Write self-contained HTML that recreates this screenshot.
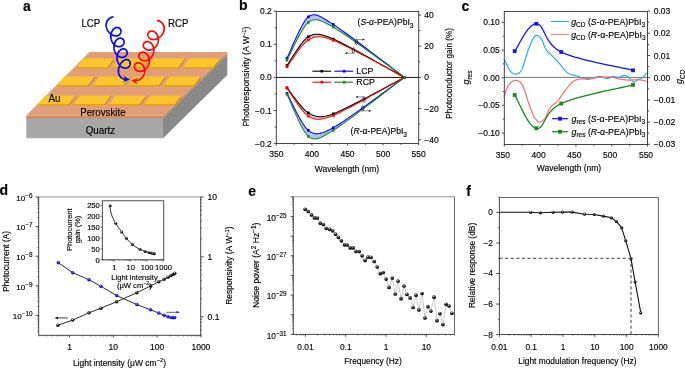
<!DOCTYPE html>
<html><head><meta charset="utf-8"><style>
html,body{margin:0;padding:0;background:#fff;}
body{width:685px;height:368px;overflow:hidden;}
svg{display:block;will-change:transform;font-family:"Liberation Sans",sans-serif;}
text{stroke:#000;stroke-width:0.15px;}
</style></head><body>
<svg width="685" height="368" viewBox="0 0 685 368" fill="#000">
<defs>
<radialGradient id="sg" cx="0.45" cy="0.35" r="0.6" fx="0.42" fy="0.28">
<stop offset="0" stop-color="#f0f0f0"/><stop offset="0.3" stop-color="#505050"/><stop offset="0.7" stop-color="#181818"/><stop offset="1" stop-color="#000"/></radialGradient>
<radialGradient id="bg" cx="0.45" cy="0.35" r="0.6" fx="0.42" fy="0.28">
<stop offset="0" stop-color="#b0b0ff"/><stop offset="0.35" stop-color="#2a2aff"/><stop offset="1" stop-color="#0000b0"/></radialGradient>
</defs>
<text x="23" y="10.6" font-size="14" text-anchor="start" font-weight="bold">a</text>
<polygon points="26.3,118.1 163,118.1 163,138.3 26.3,138.3" fill="#a7a7a7" />
<polygon points="163,118.1 227.3,54.6 227.3,75 163,138.3" fill="#898989" />
<polygon points="26.2,115.5 163,115.5 163,118.2 26.3,118.2" fill="#d88a5c" />
<polygon points="163,115.5 227.3,52 227.3,54.8 163,118.2" fill="#cf8c62" />
<polygon points="89.5,52 227.3,52 163,115.5 26.2,115.5" fill="#e09f78" />
<polygon points="77.2,67 107.7,67 108.1,68.5 77.4,68.5" fill="#e6a40c" />
<polygon points="114,58.6 114.5,59.6 108.2,68.5 107.7,67" fill="#c58d12" />
<polygon points="83.5,58.6 114,58.6 107.7,67 77.2,67" fill="#fdc52c" />
<polygon points="112.5,67 143,67 143.4,68.5 112.7,68.5" fill="#e6a40c" />
<polygon points="149.3,58.6 149.8,59.6 143.5,68.5 143,67" fill="#c58d12" />
<polygon points="118.8,58.6 149.3,58.6 143,67 112.5,67" fill="#fdc52c" />
<polygon points="147.8,67 178.3,67 178.7,68.5 148,68.5" fill="#e6a40c" />
<polygon points="184.6,58.6 185.1,59.6 178.8,68.5 178.3,67" fill="#c58d12" />
<polygon points="154.1,58.6 184.6,58.6 178.3,67 147.8,67" fill="#fdc52c" />
<polygon points="183.1,67 213.6,67 214,68.5 183.3,68.5" fill="#e6a40c" />
<polygon points="219.9,58.6 220.4,59.6 214.1,68.5 213.6,67" fill="#c58d12" />
<polygon points="189.4,58.6 219.9,58.6 213.6,67 183.1,67" fill="#fdc52c" />
<polygon points="57.8,85 88.3,85 88.7,86.5 58,86.5" fill="#e6a40c" />
<polygon points="94.6,76.6 95.1,77.6 88.8,86.5 88.3,85" fill="#c58d12" />
<polygon points="64.1,76.6 94.6,76.6 88.3,85 57.8,85" fill="#fdc52c" />
<polygon points="93.1,85 123.6,85 124,86.5 93.3,86.5" fill="#e6a40c" />
<polygon points="129.9,76.6 130.4,77.6 124.1,86.5 123.6,85" fill="#c58d12" />
<polygon points="99.4,76.6 129.9,76.6 123.6,85 93.1,85" fill="#fdc52c" />
<polygon points="128.4,85 158.9,85 159.3,86.5 128.6,86.5" fill="#e6a40c" />
<polygon points="165.2,76.6 165.7,77.6 159.4,86.5 158.9,85" fill="#c58d12" />
<polygon points="134.7,76.6 165.2,76.6 158.9,85 128.4,85" fill="#fdc52c" />
<polygon points="163.7,85 194.2,85 194.6,86.5 163.9,86.5" fill="#e6a40c" />
<polygon points="200.5,76.6 201,77.6 194.7,86.5 194.2,85" fill="#c58d12" />
<polygon points="170,76.6 200.5,76.6 194.2,85 163.7,85" fill="#fdc52c" />
<polygon points="38.6,104 69.1,104 69.5,105.5 38.8,105.5" fill="#e6a40c" />
<polygon points="75.4,95.6 75.9,96.6 69.6,105.5 69.1,104" fill="#c58d12" />
<polygon points="44.9,95.6 75.4,95.6 69.1,104 38.6,104" fill="#fdc52c" />
<polygon points="73.9,104 104.4,104 104.8,105.5 74.1,105.5" fill="#e6a40c" />
<polygon points="110.7,95.6 111.2,96.6 104.9,105.5 104.4,104" fill="#c58d12" />
<polygon points="80.2,95.6 110.7,95.6 104.4,104 73.9,104" fill="#fdc52c" />
<polygon points="109.2,104 139.7,104 140.1,105.5 109.4,105.5" fill="#e6a40c" />
<polygon points="146,95.6 146.5,96.6 140.2,105.5 139.7,104" fill="#c58d12" />
<polygon points="115.5,95.6 146,95.6 139.7,104 109.2,104" fill="#fdc52c" />
<polygon points="144.5,104 175,104 175.4,105.5 144.7,105.5" fill="#e6a40c" />
<polygon points="181.3,95.6 181.8,96.6 175.5,105.5 175,104" fill="#c58d12" />
<polygon points="150.8,95.6 181.3,95.6 175,104 144.5,104" fill="#fdc52c" />
<text transform="translate(48.4,101.5) scale(1,1.08)" font-size="9.8" text-anchor="start">Au</text>
<text transform="translate(102.9,116) scale(1,1.08)" font-size="9.75" text-anchor="middle">Perovskite</text>
<text transform="translate(100.4,133.7) scale(1,1.08)" font-size="9.75" text-anchor="middle">Quartz</text>
<text transform="translate(90.9,26.8) scale(1,1.08)" font-size="9.7" text-anchor="middle">LCP</text>
<text transform="translate(178.2,26.8) scale(1,1.08)" font-size="9.7" text-anchor="middle">RCP</text>
<polyline points="112.8,17 112.4,17.1 112,17.21 111.6,17.34 111.22,17.49 110.84,17.66 110.47,17.84 110.11,18.04 109.76,18.26 109.42,18.49 109.1,18.74 108.79,19 108.49,19.28 108.21,19.58 107.95,19.88 107.7,20.21 107.47,20.54 107.25,20.88 107.06,21.24 106.88,21.61 106.72,21.99 106.58,22.37 106.46,22.77 106.37,23.17 106.29,23.58 106.23,23.99 106.19,24.41 106.17,24.84 106.17,25.27 106.19,25.7 106.23,26.13 106.29,26.56 106.36,26.99 106.46,27.42 106.58,27.85 106.71,28.27 106.86,28.69 107.03,29.11 107.22,29.52 107.42,29.92 107.63,30.32 107.86,30.71 108.11,31.08 108.37,31.45 108.64,31.81 108.92,32.16 109.21,32.5 109.51,32.82 109.83,33.13 110.15,33.42 110.47,33.7 110.81,33.97 111.15,34.22 111.49,34.46 111.84,34.68 112.19,34.88 112.54,35.07 112.89,35.23 113.25,35.39 113.6,35.52 113.95,35.64 114.3,35.74 114.64,35.82 114.98,35.88 115.32,35.93 115.64,35.96 115.97,35.97 116.28,35.96 116.59,35.94 116.89,35.9 117.17,35.84 117.45,35.77 117.72,35.69 117.97,35.58 118.23,35.47 118.49,35.34 118.73,35.19 118.97,35.04 119.19,34.87 119.41,34.69 119.61,34.5 119.79,34.29 119.97,34.08 120.13,33.87 120.28,33.64 120.41,33.41 120.53,33.17 120.63,32.92 120.72,32.67 120.8,32.42 120.86,32.17 120.9,31.91 120.93,31.66 120.94,31.4 120.94,31.14 120.93,30.89 120.89,30.64 120.85,30.39 120.79,30.15 120.71,29.92 120.62,29.69 120.51,29.46 120.4,29.25 120.27,29.04 120.12,28.85 119.96,28.66 119.8,28.49 119.62,28.33 119.43,28.18 119.23,28.04 119.01,27.92 118.8,27.81 118.57,27.72 118.33,27.64 118.09,27.57 117.84,27.53 117.59,27.5 117.33,27.48 117.06,27.49 116.8,27.51 116.53,27.55 116.26,27.6 115.98,27.67 115.71,27.77 115.44,27.87 115.17,28 114.9,28.14 114.63,28.3 114.37,28.48 114.11,28.68 113.86,28.89 113.61,29.12 113.37,29.36 113.14,29.62 112.92,29.9 112.7,30.19 112.49,30.49 112.3,30.81 112.11,31.14 111.94,31.48 111.77,31.83 111.62,32.2 111.48,32.57 111.36,32.95 111.24,33.35 111.14,33.75 111.06,34.15 110.99,34.57 110.93,34.99 110.89,35.41 110.87,35.84 110.85,36.26 110.86,36.7 110.88,37.13 110.91,37.56 110.96,37.99 111.03,38.42 111.11,38.84 111.2,39.27 111.31,39.68 111.44,40.09 111.58,40.5 111.73,40.9 111.9,41.29 112.08,41.67 112.27,42.04 112.48,42.4 112.69,42.76 112.92,43.09 113.16,43.42 113.41,43.73 113.67,44.03 113.94,44.32 114.22,44.59 114.5,44.85 114.79,45.09 115.09,45.31 115.4,45.52 115.71,45.71 116.02,45.89 116.34,46.04 116.66,46.18 116.98,46.3 117.3,46.41 117.63,46.49 117.95,46.56 118.27,46.62 118.59,46.65 118.91,46.67 119.22,46.67 119.53,46.65 119.83,46.61 120.13,46.56 120.42,46.5 120.71,46.41 120.98,46.32 121.25,46.2 121.51,46.08 121.76,45.94 122,45.78 122.23,45.62 122.44,45.44 122.65,45.26 122.84,45.06 123.02,44.85 123.18,44.63 123.33,44.41 123.47,44.18 123.6,43.94 123.7,43.7 123.8,43.45 123.88,43.2 123.94,42.95 123.99,42.69 124.02,42.43 124.04,42.18 124.05,41.92 124.03,41.67 124.01,41.42 123.96,41.17 123.91,40.92 123.83,40.69 123.75,40.46 123.65,40.23 123.53,40.01 123.41,39.81 123.27,39.61 123.11,39.42 122.95,39.24 122.77,39.08 122.59,38.92 122.39,38.78 122.18,38.65 121.96,38.54 121.74,38.44 121.5,38.36 121.26,38.29 121.02,38.24 120.76,38.2 120.51,38.19 120.24,38.18 119.98,38.2 119.71,38.23 119.44,38.28 119.17,38.35 118.89,38.44 118.62,38.54 118.35,38.66 118.08,38.8 117.81,38.95 117.55,39.13 117.29,39.32 117.04,39.52 116.79,39.75 116.55,39.99 116.31,40.24 116.08,40.51 115.87,40.8 115.66,41.1 115.46,41.41 115.27,41.73 115.09,42.07 114.92,42.42 114.77,42.78 114.62,43.16 114.49,43.54 114.38,43.93 114.27,44.32 114.18,44.73 114.11,45.14 114.05,45.56 114,45.98 113.97,46.41 113.96,46.83 113.96,47.26 113.97,47.7 114,48.13 114.05,48.56 114.11,48.99 114.18,49.41 114.27,49.84 114.38,50.26 114.5,50.67 114.63,51.08 114.78,51.48 114.95,51.87 115.12,52.26 115.31,52.63 115.51,53 115.73,53.35 115.95,53.69 116.19,54.02 116.43,54.34 116.69,54.64 116.96,54.94 117.23,55.21 117.51,55.47 117.81,55.72 118.1,55.95 118.4,56.16 118.71,56.35 119.03,56.53 119.34,56.7 119.66,56.84 119.98,56.97 120.3,57.08 120.63,57.17 120.95,57.24 121.27,57.3 121.59,57.34 121.91,57.36 122.23,57.37 122.54,57.35 122.84,57.33 123.14,57.28 123.44,57.22 123.72,57.14 124,57.05 124.27,56.94 124.53,56.82 124.79,56.68 125.03,56.53 125.26,56.37 125.48,56.2 125.69,56.01 125.88,55.82 126.06,55.61 126.23,55.4 126.39,55.18 126.53,54.95 126.66,54.71 126.77,54.47 126.87,54.23 126.96,53.98 127.02,53.72 127.08,53.47 127.12,53.21 127.14,52.95 127.15,52.7 127.14,52.44 127.12,52.19 127.08,51.94 127.02,51.7 126.96,51.46 126.88,51.23 126.78,51 126.67,50.78 126.55,50.57 126.41,50.37 126.26,50.17 126.1,49.99 125.93,49.82 125.74,49.67 125.55,49.52 125.34,49.39 125.13,49.27 124.91,49.17 124.68,49.08 124.44,49.01 124.19,48.95 123.94,48.91 123.68,48.89 123.42,48.88 123.16,48.89 122.89,48.92 122.62,48.97 122.35,49.03 122.08,49.11 121.8,49.21 121.53,49.32 121.26,49.45 120.99,49.6 120.73,49.77 120.47,49.96 120.21,50.16 119.96,50.38 119.72,50.61 119.48,50.86 119.25,51.13 119.03,51.41 118.82,51.7 118.62,52.01 118.42,52.33 118.24,52.67 118.07,53.02 117.91,53.37 117.76,53.74 117.63,54.12 117.51,54.51 117.4,54.9 117.31,55.31 117.23,55.72 117.16,56.13 117.11,56.55 117.08,56.98 117.06,57.4 117.05,57.83 117.06,58.26 117.09,58.7 117.13,59.13 117.19,59.56 117.26,59.98 117.34,60.41 117.45,60.83 117.56,61.24 117.69,61.65 117.84,62.06 117.99,62.45 118.17,62.84 118.35,63.22 118.55,63.59 118.76,63.94 118.98,64.29 119.21,64.62 119.46,64.95 119.71,65.25 119.98,65.55 120.25,65.83 120.53,66.09 120.82,66.34 121.11,66.58 121.41,66.8 121.72,67 122.03,67.18 122.34,67.35 122.66,67.5 122.98,67.63 123.31,67.75 123.63,67.84 123.95,67.92 124.28,67.99 124.6,68.03 124.91,68.06 125.23,68.07 125.54,68.06 125.85,68.04 126.15,68 126.45,67.94 126.74,67.87 127.02,67.78 127.29,67.67 127.55,67.56 127.81,67.42 128.06,67.28 128.29,67.12 128.51,66.95 128.72,66.77 128.92,66.58 129.11,66.38 129.28,66.17 129.44,65.95 129.59,65.72 129.72,65.49 129.84,65.25 129.94,65 130.03,64.75 130.1,64.5 130.16,64.25 130.21,63.99 130.23,63.73 130.25,63.48 130.24,63.22 130.22,62.97 130.19,62.72 130.14,62.47 130.08,62.23 130,62 129.91,61.77 129.8,61.54 129.69,61.33 129.55,61.13 129.41,60.93 129.25,60.75 129.08,60.57 128.9,60.41 128.71,60.27 128.51,60.13 128.3,60.01 128.08,59.9 127.85,59.81 127.61,59.73 127.37,59.67 127.12,59.62 126.86,59.59 126.6,59.58 126.34,59.59 126.07,59.61 125.8,59.65 125.53,59.71 125.26,59.78 124.99,59.87 124.71,59.98 124.44,60.11 124.18,60.26 123.91,60.42 123.65,60.6 123.39,60.8 123.14,61.01 122.89,61.24 122.65,61.48 122.65,61.48 122.18,61.87 121.73,62.31 121.29,62.82 120.87,63.37 120.47,63.97 120.1,64.61 119.76,65.29 119.45,66 119.18,66.73 118.94,67.49 118.74,68.26 118.59,69.05 118.48,69.84 118.42,70.63 118.42,71.42 118.47,72.2 118.58,72.97 118.75,73.72 118.98,74.45 119.28,75.14 119.65,75.81 120.1,76.43 120.62,77.01 121.22,77.54 121.9,78.02 122.66,78.44 123.52,78.8 124.46,79.09 125.5,79.3" fill="none" stroke="#0a0af8" stroke-width="1.75" stroke-linejoin="round" stroke-linecap="round" />
<polygon points="129.8,79.4 122.96,82.16 125.21,79.03 123.48,75.58" fill="#0a0af8" />
<polyline points="157.6,20.6 158.02,20.7 158.43,20.82 158.83,20.95 159.23,21.11 159.62,21.28 160,21.47 160.36,21.68 160.72,21.9 161.07,22.15 161.4,22.41 161.71,22.68 162.01,22.98 162.3,23.28 162.57,23.6 162.82,23.94 163.05,24.29 163.26,24.65 163.45,25.02 163.62,25.4 163.77,25.8 163.9,26.2 164.01,26.61 164.1,27.03 164.16,27.45 164.21,27.88 164.23,28.32 164.23,28.75 164.2,29.2 164.16,29.64 164.09,30.08 164.01,30.53 163.9,30.97 163.77,31.41 163.62,31.84 163.45,32.28 163.27,32.7 163.06,33.12 162.84,33.54 162.59,33.94 162.34,34.34 162.06,34.73 161.78,35.1 161.47,35.47 161.16,35.82 160.83,36.16 160.49,36.49 160.14,36.8 159.78,37.1 159.41,37.38 159.04,37.65 158.66,37.9 158.27,38.13 157.88,38.35 157.49,38.55 157.09,38.73 156.7,38.89 156.3,39.03 155.9,39.16 155.51,39.26 155.12,39.35 154.73,39.42 154.35,39.47 153.97,39.5 153.6,39.51 153.24,39.51 152.89,39.48 152.55,39.44 152.21,39.39 151.89,39.31 151.58,39.22 151.28,39.11 150.98,38.99 150.69,38.85 150.4,38.7 150.13,38.54 149.88,38.36 149.63,38.17 149.4,37.97 149.19,37.76 148.99,37.54 148.8,37.31 148.63,37.08 148.48,36.83 148.35,36.58 148.23,36.33 148.13,36.07 148.04,35.81 147.98,35.54 147.93,35.28 147.9,35.01 147.88,34.75 147.89,34.49 147.91,34.23 147.95,33.97 148.01,33.72 148.08,33.48 148.17,33.24 148.27,33.01 148.39,32.79 148.53,32.57 148.68,32.37 148.85,32.18 149.02,32 149.22,31.83 149.42,31.68 149.64,31.54 149.86,31.41 150.1,31.3 150.35,31.21 150.6,31.13 150.87,31.07 151.14,31.02 151.41,31 151.7,30.99 151.98,31 152.27,31.02 152.57,31.07 152.86,31.13 153.16,31.22 153.45,31.32 153.75,31.44 154.04,31.58 154.33,31.74 154.61,31.91 154.89,32.11 155.17,32.32 155.43,32.55 155.69,32.8 155.95,33.06 156.19,33.34 156.42,33.63 156.65,33.94 156.86,34.27 157.06,34.6 157.25,34.95 157.42,35.32 157.58,35.69 157.72,36.08 157.85,36.47 157.97,36.88 158.07,37.29 158.15,37.71 158.22,38.13 158.27,38.56 158.3,39 158.31,39.44 158.31,39.88 158.29,40.32 158.25,40.77 158.2,41.21 158.13,41.65 158.04,42.09 157.93,42.53 157.8,42.96 157.66,43.38 157.5,43.8 157.33,44.21 157.14,44.62 156.93,45.01 156.71,45.4 156.48,45.77 156.23,46.14 155.97,46.49 155.69,46.83 155.4,47.15 155.1,47.46 154.8,47.76 154.48,48.03 154.15,48.3 153.81,48.54 153.47,48.77 153.12,48.99 152.76,49.18 152.4,49.36 152.04,49.52 151.67,49.66 151.3,49.78 150.93,49.88 150.56,49.96 150.19,50.03 149.82,50.08 149.45,50.1 149.09,50.11 148.73,50.11 148.38,50.08 148.03,50.03 147.69,49.97 147.36,49.9 147.04,49.8 146.73,49.69 146.42,49.57 146.13,49.43 145.85,49.27 145.58,49.11 145.33,48.93 145.09,48.74 144.86,48.53 144.65,48.32 144.45,48.1 144.27,47.87 144.1,47.63 143.95,47.38 143.82,47.13 143.71,46.88 143.61,46.62 143.53,46.36 143.47,46.09 143.42,45.83 143.39,45.56 143.38,45.3 143.39,45.04 143.42,44.78 143.46,44.52 143.52,44.27 143.59,44.03 143.69,43.79 143.79,43.56 143.92,43.34 144.06,43.13 144.21,42.93 144.38,42.74 144.56,42.57 144.75,42.4 144.96,42.25 145.18,42.11 145.41,41.99 145.65,41.88 145.9,41.79 146.15,41.72 146.42,41.66 146.69,41.62 146.97,41.59 147.25,41.59 147.54,41.6 147.83,41.63 148.12,41.68 148.42,41.75 148.71,41.84 149.01,41.94 149.3,42.07 149.59,42.21 149.88,42.37 150.16,42.55 150.44,42.75 150.72,42.96 150.98,43.2 151.24,43.44 151.49,43.71 151.74,43.99 151.97,44.29 152.19,44.6 152.4,44.93 152.6,45.27 152.78,45.62 152.95,45.99 153.11,46.36 153.25,46.75 153.38,47.15 153.49,47.55 153.59,47.97 153.67,48.39 153.73,48.81 153.77,49.25 153.8,49.68 153.82,50.12 153.81,50.56 153.79,51.01 153.75,51.45 153.69,51.89 153.61,52.33 153.52,52.77 153.41,53.21 153.28,53.64 153.13,54.06 152.97,54.48 152.79,54.89 152.6,55.3 152.39,55.69 152.17,56.07 151.93,56.44 151.68,56.81 151.41,57.15 151.14,57.49 150.85,57.81 150.55,58.12 150.24,58.41 149.92,58.69 149.59,58.95 149.25,59.19 148.9,59.42 148.55,59.63 148.19,59.82 147.83,59.99 147.47,60.14 147.1,60.28 146.73,60.4 146.36,60.5 145.99,60.58 145.62,60.64 145.25,60.68 144.88,60.71 144.52,60.71 144.17,60.7 143.81,60.67 143.47,60.62 143.13,60.56 142.8,60.48 142.48,60.38 142.17,60.27 141.87,60.14 141.58,60 141.3,59.84 141.03,59.67 140.78,59.49 140.54,59.3 140.32,59.09 140.11,58.88 139.91,58.65 139.74,58.42 139.57,58.18 139.43,57.94 139.3,57.69 139.19,57.43 139.09,57.17 139.02,56.91 138.96,56.64 138.92,56.38 138.89,56.11 138.88,55.85 138.9,55.59 138.92,55.33 138.97,55.08 139.03,54.83 139.11,54.58 139.21,54.35 139.32,54.12 139.44,53.9 139.58,53.69 139.74,53.5 139.91,53.31 140.1,53.13 140.29,52.97 140.5,52.82 140.72,52.69 140.95,52.57 141.19,52.46 141.44,52.37 141.7,52.3 141.97,52.25 142.24,52.21 142.52,52.19 142.81,52.19 143.09,52.2 143.39,52.24 143.68,52.29 143.97,52.36 144.27,52.45 144.56,52.56 144.86,52.69 145.15,52.84 145.44,53 145.72,53.19 146,53.39 146.27,53.61 146.53,53.84 146.79,54.09 147.04,54.36 147.28,54.65 147.51,54.95 147.73,55.26 147.94,55.59 148.13,55.94 148.31,56.29 148.48,56.66 148.64,57.04 148.78,57.43 148.9,57.82 149.01,58.23 149.1,58.65 149.18,59.07 149.24,59.5 149.28,59.93 149.31,60.37 149.32,60.81 149.31,61.25 149.28,61.69 149.24,62.14 149.17,62.58 149.09,63.02 149,63.46 148.88,63.89 148.75,64.32 148.6,64.74 148.44,65.16 148.26,65.57 148.06,65.97 147.85,66.36 147.62,66.74 147.38,67.11 147.13,67.47 146.86,67.82 146.58,68.15 146.29,68.47 145.99,68.77 145.68,69.06 145.35,69.34 145.02,69.59 144.68,69.83 144.34,70.06 143.98,70.26 143.63,70.45 143.26,70.62 142.9,70.77 142.53,70.9 142.16,71.02 141.79,71.11 141.42,71.19 141.05,71.25 140.68,71.29 140.32,71.31 139.95,71.31 139.6,71.3 139.25,71.26 138.9,71.21 138.57,71.15 138.24,71.06 137.92,70.96 137.61,70.85 137.31,70.72 137.02,70.57 136.75,70.41 136.48,70.24 136.23,70.06 136,69.86 135.78,69.65 135.57,69.44 135.38,69.21 135.2,68.98 135.05,68.74 134.9,68.49 134.78,68.24 134.67,67.98 134.58,67.72 134.5,67.46 134.45,67.19 134.41,66.93 134.39,66.66 134.39,66.4 134.4,66.14 134.43,65.88 134.48,65.63 134.54,65.38 134.63,65.14 134.73,64.91 134.84,64.68 134.97,64.46 135.11,64.26 135.27,64.06 135.45,63.87 135.63,63.7 135.83,63.54 136.04,63.39 136.26,63.26 136.5,63.15 136.74,63.04 136.99,62.96 137.25,62.89 137.52,62.84 137.8,62.8 138.08,62.79 138.36,62.79 138.65,62.81 138.94,62.85 139.23,62.9 139.53,62.98 139.82,63.07 140.12,63.19 140.41,63.32 140.7,63.47 140.99,63.64 141.27,63.82 141.55,64.03 141.82,64.25 142.08,64.49 142.34,64.74 142.59,65.02 142.83,65.3 143.05,65.61 143.27,65.93 143.47,66.26 143.67,66.6 143.85,66.96 144.01,67.33 144.16,67.71 144.3,68.1 144.42,68.5 144.53,68.91 144.62,69.33 144.69,69.75 144.69,69.75 144.72,70.12 144.73,70.51 144.72,70.92 144.7,71.34 144.66,71.77 144.61,72.22 144.53,72.67 144.43,73.13 144.31,73.59 144.17,74.06 144,74.53 143.81,74.99 143.59,75.45 143.34,75.91 143.07,76.36 142.76,76.8 142.42,77.23 142.05,77.65 141.65,78.05 141.21,78.43 140.73,78.8 140.22,79.14 139.67,79.46 139.08,79.76 138.45,80.03 137.78,80.27 137.06,80.48 136.3,80.66 135.5,80.8" fill="none" stroke="#f80a0a" stroke-width="1.75" stroke-linejoin="round" stroke-linecap="round" />
<polygon points="131.3,80.4 138.25,77.91 135.87,80.95 137.46,84.46" fill="#f80a0a" />
<text x="238.9" y="10.2" font-size="14" text-anchor="start" font-weight="bold">b</text>
<polygon points="286.98,58.2 287.4,57.34 287.91,56.25 288.5,54.94 289.16,53.43 289.88,51.76 290.67,49.94 291.51,47.99 292.41,45.93 293.34,43.8 294.31,41.6 295.31,39.36 296.34,37.11 297.38,34.86 298.44,32.64 299.5,30.47 300.56,28.38 301.62,26.37 302.66,24.49 303.69,22.74 304.69,21.15 305.66,19.74 306.6,18.53 307.49,17.56 308.34,16.83 309.15,16.27 309.95,15.81 310.73,15.43 311.52,15.13 312.3,14.92 313.08,14.79 313.88,14.74 314.69,14.77 315.52,14.87 316.37,15.05 317.24,15.3 318.15,15.62 319.1,16.01 320.09,16.47 321.12,17 322.2,17.59 323.34,18.24 324.54,18.96 325.81,19.73 327.14,20.56 328.55,21.45 330.03,22.4 331.6,23.39 333.26,24.44 335.13,25.66 337.33,27.14 339.82,28.87 342.56,30.82 345.54,32.97 348.71,35.28 352.05,37.74 355.53,40.32 359.11,42.99 362.77,45.73 366.47,48.52 370.18,51.32 373.88,54.12 377.52,56.89 381.09,59.61 384.54,62.24 387.86,64.77 390.99,67.17 393.93,69.41 396.63,71.47 399.06,73.32 401.2,74.95 403.01,76.31 404.46,77.4 404.46,77.4 403.01,76.37 401.2,75.06 399.06,73.51 396.63,71.74 393.93,69.77 390.99,67.63 387.86,65.33 384.54,62.92 381.09,60.4 377.52,57.81 373.88,55.16 370.18,52.49 366.47,49.81 362.77,47.16 359.11,44.55 355.53,42.01 352.05,39.56 348.71,37.23 345.54,35.04 342.56,33.02 339.82,31.19 337.33,29.58 335.13,28.2 333.26,27.09 331.6,26.15 330.03,25.27 328.55,24.46 327.14,23.72 325.81,23.04 324.54,22.42 323.34,21.87 322.2,21.38 321.12,20.96 320.09,20.61 319.1,20.32 318.15,20.09 317.24,19.93 316.37,19.84 315.52,19.81 314.69,19.84 313.88,19.94 313.08,20.11 312.3,20.33 311.52,20.63 310.73,20.99 309.95,21.41 309.15,21.9 308.34,22.45 307.49,23.16 306.6,24.08 305.66,25.2 304.69,26.51 303.69,27.97 302.66,29.58 301.62,31.3 300.56,33.13 299.5,35.04 298.44,37.02 297.38,39.04 296.34,41.07 295.31,43.12 294.31,45.14 293.34,47.14 292.41,49.07 291.51,50.93 290.67,52.7 289.88,54.35 289.16,55.86 288.5,57.22 287.91,58.41 287.4,59.41 286.98,60.19" fill="#b3c4f4" />
<polygon points="286.98,65.48 287.4,64.89 287.91,64.13 288.5,63.23 289.16,62.19 289.88,61.04 290.67,59.79 291.51,58.45 292.41,57.04 293.34,55.57 294.31,54.06 295.31,52.52 296.34,50.96 297.38,49.41 298.44,47.88 299.5,46.37 300.56,44.91 301.62,43.52 302.66,42.2 303.69,40.96 304.69,39.84 305.66,38.83 306.6,37.96 307.49,37.24 308.34,36.69 309.15,36.24 309.95,35.83 310.73,35.47 311.52,35.16 312.3,34.88 313.08,34.66 313.88,34.47 314.69,34.34 315.52,34.25 316.37,34.21 317.24,34.22 318.15,34.28 319.1,34.38 320.09,34.54 321.12,34.75 322.2,35.01 323.34,35.32 324.54,35.68 325.81,36.1 327.14,36.57 328.55,37.09 330.03,37.68 331.6,38.31 333.26,39 335.13,39.83 337.33,40.87 339.82,42.09 342.56,43.47 345.54,45.01 348.71,46.67 352.05,48.45 355.53,50.31 359.11,52.25 362.77,54.25 366.47,56.28 370.18,58.33 373.88,60.37 377.52,62.4 381.09,64.38 384.54,66.31 387.86,68.16 390.99,69.92 393.93,71.56 396.63,73.07 399.06,74.43 401.2,75.61 403.01,76.61 404.46,77.4 404.46,77.4 403.01,76.64 401.2,75.67 399.06,74.52 396.63,73.2 393.93,71.73 390.99,70.14 387.86,68.43 384.54,66.63 381.09,64.76 377.52,62.83 373.88,60.87 370.18,58.88 366.47,56.9 362.77,54.93 359.11,53 355.53,51.13 352.05,49.33 348.71,47.62 345.54,46.02 342.56,44.55 339.82,43.23 337.33,42.07 335.13,41.1 333.26,40.33 331.6,39.7 330.03,39.14 328.55,38.64 327.14,38.2 325.81,37.83 324.54,37.51 323.34,37.26 322.2,37.05 321.12,36.91 320.09,36.81 319.1,36.76 318.15,36.77 317.24,36.82 316.37,36.92 315.52,37.06 314.69,37.24 313.88,37.46 313.08,37.72 312.3,38.02 311.52,38.35 310.73,38.72 309.95,39.11 309.15,39.54 308.34,40 307.49,40.54 306.6,41.24 305.66,42.07 304.69,43.02 303.69,44.08 302.66,45.23 301.62,46.47 300.56,47.77 299.5,49.13 298.44,50.52 297.38,51.95 296.34,53.38 295.31,54.82 294.31,56.25 293.34,57.64 292.41,59 291.51,60.31 290.67,61.54 289.88,62.7 289.16,63.76 288.5,64.72 287.91,65.55 287.4,66.25 286.98,66.81" fill="#c6c6c6" />
<polygon points="286.98,93.29 287.4,94.05 287.91,95.03 288.5,96.19 289.16,97.52 289.88,99 290.67,100.61 291.51,102.33 292.41,104.15 293.34,106.04 294.31,107.99 295.31,109.97 296.34,111.96 297.38,113.96 298.44,115.94 299.5,117.87 300.56,119.75 301.62,121.55 302.66,123.25 303.69,124.83 304.69,126.29 305.66,127.58 306.6,128.71 307.49,129.64 308.34,130.36 309.15,130.94 309.95,131.48 310.73,131.95 311.52,132.38 312.3,132.75 313.08,133.06 313.88,133.31 314.69,133.51 315.52,133.64 316.37,133.72 317.24,133.73 318.15,133.68 319.1,133.56 320.09,133.38 321.12,133.13 322.2,132.82 323.34,132.43 324.54,131.98 325.81,131.45 327.14,130.85 328.55,130.18 330.03,129.43 331.6,128.61 333.26,127.71 335.13,126.63 337.33,125.28 339.82,123.69 342.56,121.88 345.54,119.87 348.71,117.69 352.05,115.36 355.53,112.92 359.11,110.38 362.77,107.76 366.47,105.1 370.18,102.42 373.88,99.73 377.52,97.08 381.09,94.47 384.54,91.94 387.86,89.52 390.99,87.21 393.93,85.06 396.63,83.08 399.06,81.3 401.2,79.74 403.01,78.44 404.46,77.4 404.46,77.4 403.01,78.49 401.2,79.86 399.06,81.49 396.63,83.35 393.93,85.42 390.99,87.67 387.86,90.07 384.54,92.61 381.09,95.25 377.52,97.98 373.88,100.76 370.18,103.56 366.47,106.38 362.77,109.17 359.11,111.91 355.53,114.59 352.05,117.16 348.71,119.62 345.54,121.93 342.56,124.06 339.82,126 337.33,127.71 335.13,129.17 333.26,130.36 331.6,131.37 330.03,132.33 328.55,133.22 327.14,134.05 325.81,134.82 324.54,135.53 323.34,136.17 322.2,136.75 321.12,137.26 320.09,137.7 319.1,138.08 318.15,138.39 317.24,138.62 316.37,138.79 315.52,138.88 314.69,138.9 313.88,138.85 313.08,138.72 312.3,138.51 311.52,138.23 310.73,137.87 309.95,137.43 309.15,136.92 308.34,136.32 307.49,135.55 306.6,134.53 305.66,133.29 304.69,131.84 303.69,130.22 302.66,128.43 301.62,126.51 300.56,124.47 299.5,122.34 298.44,120.14 297.38,117.89 296.34,115.62 295.31,113.34 294.31,111.07 293.34,108.85 292.41,106.69 291.51,104.61 290.67,102.64 289.88,100.8 289.16,99.11 288.5,97.59 287.91,96.26 287.4,95.15 286.98,94.28" fill="#b3c4f4" />
<polygon points="286.98,87.66 287.4,88.18 287.91,88.83 288.5,89.61 289.16,90.5 289.88,91.5 290.67,92.57 291.51,93.73 292.41,94.94 293.34,96.21 294.31,97.51 295.31,98.84 296.34,100.19 297.38,101.53 298.44,102.86 299.5,104.17 300.56,105.44 301.62,106.66 302.66,107.82 303.69,108.91 304.69,109.91 305.66,110.82 306.6,111.61 307.49,112.28 308.34,112.82 309.15,113.27 309.95,113.71 310.73,114.13 311.52,114.53 312.3,114.9 313.08,115.24 313.88,115.55 314.69,115.84 315.52,116.08 316.37,116.29 317.24,116.46 318.15,116.58 319.1,116.66 320.09,116.7 321.12,116.68 322.2,116.61 323.34,116.48 324.54,116.29 325.81,116.05 327.14,115.74 328.55,115.36 330.03,114.92 331.6,114.4 333.26,113.81 335.13,113.08 337.33,112.14 339.82,111.02 342.56,109.73 345.54,108.29 348.71,106.73 352.05,105.05 355.53,103.29 359.11,101.44 362.77,99.55 366.47,97.61 370.18,95.66 373.88,93.7 377.52,91.77 381.09,89.86 384.54,88.02 387.86,86.24 390.99,84.56 393.93,82.99 396.63,81.54 399.06,80.24 401.2,79.1 403.01,78.15 404.46,77.4 404.46,77.4 403.01,78.18 401.2,79.18 399.06,80.36 396.63,81.71 393.93,83.21 390.99,84.85 387.86,86.6 384.54,88.45 381.09,90.37 377.52,92.35 373.88,94.36 370.18,96.4 366.47,98.43 362.77,100.45 359.11,102.43 355.53,104.36 352.05,106.21 348.71,107.96 345.54,109.6 342.56,111.11 339.82,112.48 337.33,113.67 335.13,114.67 333.26,115.47 331.6,116.12 330.03,116.7 328.55,117.23 327.14,117.69 325.81,118.08 324.54,118.42 323.34,118.7 322.2,118.93 321.12,119.1 320.09,119.22 319.1,119.28 318.15,119.3 317.24,119.26 316.37,119.18 315.52,119.05 314.69,118.88 313.88,118.67 313.08,118.42 312.3,118.12 311.52,117.79 310.73,117.43 309.95,117.03 309.15,116.59 308.34,116.13 307.49,115.56 306.6,114.85 305.66,113.99 304.69,113.01 303.69,111.91 302.66,110.71 301.62,109.43 300.56,108.08 299.5,106.68 298.44,105.23 297.38,103.75 296.34,102.26 295.31,100.77 294.31,99.29 293.34,97.84 292.41,96.43 291.51,95.07 290.67,93.79 289.88,92.59 289.16,91.48 288.5,90.49 287.91,89.62 287.4,88.9 286.98,88.32" fill="#c6c6c6" />
<polyline points="286.98,58.2 287.4,57.34 287.91,56.25 288.5,54.94 289.16,53.43 289.88,51.76 290.67,49.94 291.51,47.99 292.41,45.93 293.34,43.8 294.31,41.6 295.31,39.36 296.34,37.11 297.38,34.86 298.44,32.64 299.5,30.47 300.56,28.38 301.62,26.37 302.66,24.49 303.69,22.74 304.69,21.15 305.66,19.74 306.6,18.53 307.49,17.56 308.34,16.83 309.15,16.27 309.95,15.81 310.73,15.43 311.52,15.13 312.3,14.92 313.08,14.79 313.88,14.74 314.69,14.77 315.52,14.87 316.37,15.05 317.24,15.3 318.15,15.62 319.1,16.01 320.09,16.47 321.12,17 322.2,17.59 323.34,18.24 324.54,18.96 325.81,19.73 327.14,20.56 328.55,21.45 330.03,22.4 331.6,23.39 333.26,24.44 335.13,25.66 337.33,27.14 339.82,28.87 342.56,30.82 345.54,32.97 348.71,35.28 352.05,37.74 355.53,40.32 359.11,42.99 362.77,45.73 366.47,48.52 370.18,51.32 373.88,54.12 377.52,56.89 381.09,59.61 384.54,62.24 387.86,64.77 390.99,67.17 393.93,69.41 396.63,71.47 399.06,73.32 401.2,74.95 403.01,76.31 404.46,77.4" fill="none" stroke="#0000ff" stroke-width="1.05" stroke-linejoin="round" stroke-linecap="round" />
<rect x="285.68" y="56.9" width="2.6" height="2.6" fill="#0000ff" />
<rect x="307.04" y="15.53" width="2.6" height="2.6" fill="#0000ff" />
<rect x="331.96" y="23.14" width="2.6" height="2.6" fill="#0000ff" />
<rect x="403.16" y="76.1" width="2.6" height="2.6" fill="#0000ff" />
<polyline points="286.98,60.19 287.4,59.41 287.91,58.41 288.5,57.22 289.16,55.86 289.88,54.35 290.67,52.7 291.51,50.93 292.41,49.07 293.34,47.14 294.31,45.14 295.31,43.12 296.34,41.07 297.38,39.04 298.44,37.02 299.5,35.04 300.56,33.13 301.62,31.3 302.66,29.58 303.69,27.97 304.69,26.51 305.66,25.2 306.6,24.08 307.49,23.16 308.34,22.45 309.15,21.9 309.95,21.41 310.73,20.99 311.52,20.63 312.3,20.33 313.08,20.11 313.88,19.94 314.69,19.84 315.52,19.81 316.37,19.84 317.24,19.93 318.15,20.09 319.1,20.32 320.09,20.61 321.12,20.96 322.2,21.38 323.34,21.87 324.54,22.42 325.81,23.04 327.14,23.72 328.55,24.46 330.03,25.27 331.6,26.15 333.26,27.09 335.13,28.2 337.33,29.58 339.82,31.19 342.56,33.02 345.54,35.04 348.71,37.23 352.05,39.56 355.53,42.01 359.11,44.55 362.77,47.16 366.47,49.81 370.18,52.49 373.88,55.16 377.52,57.81 381.09,60.4 384.54,62.92 387.86,65.33 390.99,67.63 393.93,69.77 396.63,71.74 399.06,73.51 401.2,75.06 403.01,76.37 404.46,77.4" fill="none" stroke="#118a11" stroke-width="1.05" stroke-linejoin="round" stroke-linecap="round" />
<rect x="285.68" y="58.89" width="2.6" height="2.6" fill="#118a11" />
<rect x="307.04" y="21.15" width="2.6" height="2.6" fill="#118a11" />
<rect x="331.96" y="25.79" width="2.6" height="2.6" fill="#118a11" />
<rect x="403.16" y="76.1" width="2.6" height="2.6" fill="#118a11" />
<polyline points="286.98,65.48 287.4,64.89 287.91,64.13 288.5,63.23 289.16,62.19 289.88,61.04 290.67,59.79 291.51,58.45 292.41,57.04 293.34,55.57 294.31,54.06 295.31,52.52 296.34,50.96 297.38,49.41 298.44,47.88 299.5,46.37 300.56,44.91 301.62,43.52 302.66,42.2 303.69,40.96 304.69,39.84 305.66,38.83 306.6,37.96 307.49,37.24 308.34,36.69 309.15,36.24 309.95,35.83 310.73,35.47 311.52,35.16 312.3,34.88 313.08,34.66 313.88,34.47 314.69,34.34 315.52,34.25 316.37,34.21 317.24,34.22 318.15,34.28 319.1,34.38 320.09,34.54 321.12,34.75 322.2,35.01 323.34,35.32 324.54,35.68 325.81,36.1 327.14,36.57 328.55,37.09 330.03,37.68 331.6,38.31 333.26,39 335.13,39.83 337.33,40.87 339.82,42.09 342.56,43.47 345.54,45.01 348.71,46.67 352.05,48.45 355.53,50.31 359.11,52.25 362.77,54.25 366.47,56.28 370.18,58.33 373.88,60.37 377.52,62.4 381.09,64.38 384.54,66.31 387.86,68.16 390.99,69.92 393.93,71.56 396.63,73.07 399.06,74.43 401.2,75.61 403.01,76.61 404.46,77.4" fill="none" stroke="#000000" stroke-width="1.05" stroke-linejoin="round" stroke-linecap="round" />
<rect x="285.68" y="64.18" width="2.6" height="2.6" fill="#000000" />
<rect x="307.04" y="35.39" width="2.6" height="2.6" fill="#000000" />
<rect x="331.96" y="37.7" width="2.6" height="2.6" fill="#000000" />
<rect x="403.16" y="76.1" width="2.6" height="2.6" fill="#000000" />
<polyline points="286.98,66.81 287.4,66.25 287.91,65.55 288.5,64.72 289.16,63.76 289.88,62.7 290.67,61.54 291.51,60.31 292.41,59 293.34,57.64 294.31,56.25 295.31,54.82 296.34,53.38 297.38,51.95 298.44,50.52 299.5,49.13 300.56,47.77 301.62,46.47 302.66,45.23 303.69,44.08 304.69,43.02 305.66,42.07 306.6,41.24 307.49,40.54 308.34,40 309.15,39.54 309.95,39.11 310.73,38.72 311.52,38.35 312.3,38.02 313.08,37.72 313.88,37.46 314.69,37.24 315.52,37.06 316.37,36.92 317.24,36.82 318.15,36.77 319.1,36.76 320.09,36.81 321.12,36.91 322.2,37.05 323.34,37.26 324.54,37.51 325.81,37.83 327.14,38.2 328.55,38.64 330.03,39.14 331.6,39.7 333.26,40.33 335.13,41.1 337.33,42.07 339.82,43.23 342.56,44.55 345.54,46.02 348.71,47.62 352.05,49.33 355.53,51.13 359.11,53 362.77,54.93 366.47,56.9 370.18,58.88 373.88,60.87 377.52,62.83 381.09,64.76 384.54,66.63 387.86,68.43 390.99,70.14 393.93,71.73 396.63,73.2 399.06,74.52 401.2,75.67 403.01,76.64 404.46,77.4" fill="none" stroke="#ff0000" stroke-width="1.05" stroke-linejoin="round" stroke-linecap="round" />
<rect x="285.68" y="65.51" width="2.6" height="2.6" fill="#ff0000" />
<rect x="307.04" y="38.7" width="2.6" height="2.6" fill="#ff0000" />
<rect x="331.96" y="39.03" width="2.6" height="2.6" fill="#ff0000" />
<rect x="403.16" y="76.1" width="2.6" height="2.6" fill="#ff0000" />
<polyline points="286.98,93.29 287.4,94.05 287.91,95.03 288.5,96.19 289.16,97.52 289.88,99 290.67,100.61 291.51,102.33 292.41,104.15 293.34,106.04 294.31,107.99 295.31,109.97 296.34,111.96 297.38,113.96 298.44,115.94 299.5,117.87 300.56,119.75 301.62,121.55 302.66,123.25 303.69,124.83 304.69,126.29 305.66,127.58 306.6,128.71 307.49,129.64 308.34,130.36 309.15,130.94 309.95,131.48 310.73,131.95 311.52,132.38 312.3,132.75 313.08,133.06 313.88,133.31 314.69,133.51 315.52,133.64 316.37,133.72 317.24,133.73 318.15,133.68 319.1,133.56 320.09,133.38 321.12,133.13 322.2,132.82 323.34,132.43 324.54,131.98 325.81,131.45 327.14,130.85 328.55,130.18 330.03,129.43 331.6,128.61 333.26,127.71 335.13,126.63 337.33,125.28 339.82,123.69 342.56,121.88 345.54,119.87 348.71,117.69 352.05,115.36 355.53,112.92 359.11,110.38 362.77,107.76 366.47,105.1 370.18,102.42 373.88,99.73 377.52,97.08 381.09,94.47 384.54,91.94 387.86,89.52 390.99,87.21 393.93,85.06 396.63,83.08 399.06,81.3 401.2,79.74 403.01,78.44 404.46,77.4" fill="none" stroke="#0000ff" stroke-width="1.05" stroke-linejoin="round" stroke-linecap="round" />
<rect x="285.68" y="91.99" width="2.6" height="2.6" fill="#0000ff" />
<rect x="307.04" y="129.06" width="2.6" height="2.6" fill="#0000ff" />
<rect x="331.96" y="126.41" width="2.6" height="2.6" fill="#0000ff" />
<rect x="403.16" y="76.1" width="2.6" height="2.6" fill="#0000ff" />
<polyline points="286.98,94.28 287.4,95.15 287.91,96.26 288.5,97.59 289.16,99.11 289.88,100.8 290.67,102.64 291.51,104.61 292.41,106.69 293.34,108.85 294.31,111.07 295.31,113.34 296.34,115.62 297.38,117.89 298.44,120.14 299.5,122.34 300.56,124.47 301.62,126.51 302.66,128.43 303.69,130.22 304.69,131.84 305.66,133.29 306.6,134.53 307.49,135.55 308.34,136.32 309.15,136.92 309.95,137.43 310.73,137.87 311.52,138.23 312.3,138.51 313.08,138.72 313.88,138.85 314.69,138.9 315.52,138.88 316.37,138.79 317.24,138.62 318.15,138.39 319.1,138.08 320.09,137.7 321.12,137.26 322.2,136.75 323.34,136.17 324.54,135.53 325.81,134.82 327.14,134.05 328.55,133.22 330.03,132.33 331.6,131.37 333.26,130.36 335.13,129.17 337.33,127.71 339.82,126 342.56,124.06 345.54,121.93 348.71,119.62 352.05,117.16 355.53,114.59 359.11,111.91 362.77,109.17 366.47,106.38 370.18,103.56 373.88,100.76 377.52,97.98 381.09,95.25 384.54,92.61 387.86,90.07 390.99,87.67 393.93,85.42 396.63,83.35 399.06,81.49 401.2,79.86 403.01,78.49 404.46,77.4" fill="none" stroke="#118a11" stroke-width="1.05" stroke-linejoin="round" stroke-linecap="round" />
<rect x="285.68" y="92.98" width="2.6" height="2.6" fill="#118a11" />
<rect x="307.04" y="135.02" width="2.6" height="2.6" fill="#118a11" />
<rect x="331.96" y="129.06" width="2.6" height="2.6" fill="#118a11" />
<rect x="403.16" y="76.1" width="2.6" height="2.6" fill="#118a11" />
<polyline points="286.98,87.66 287.4,88.18 287.91,88.83 288.5,89.61 289.16,90.5 289.88,91.5 290.67,92.57 291.51,93.73 292.41,94.94 293.34,96.21 294.31,97.51 295.31,98.84 296.34,100.19 297.38,101.53 298.44,102.86 299.5,104.17 300.56,105.44 301.62,106.66 302.66,107.82 303.69,108.91 304.69,109.91 305.66,110.82 306.6,111.61 307.49,112.28 308.34,112.82 309.15,113.27 309.95,113.71 310.73,114.13 311.52,114.53 312.3,114.9 313.08,115.24 313.88,115.55 314.69,115.84 315.52,116.08 316.37,116.29 317.24,116.46 318.15,116.58 319.1,116.66 320.09,116.7 321.12,116.68 322.2,116.61 323.34,116.48 324.54,116.29 325.81,116.05 327.14,115.74 328.55,115.36 330.03,114.92 331.6,114.4 333.26,113.81 335.13,113.08 337.33,112.14 339.82,111.02 342.56,109.73 345.54,108.29 348.71,106.73 352.05,105.05 355.53,103.29 359.11,101.44 362.77,99.55 366.47,97.61 370.18,95.66 373.88,93.7 377.52,91.77 381.09,89.86 384.54,88.02 387.86,86.24 390.99,84.56 393.93,82.99 396.63,81.54 399.06,80.24 401.2,79.1 403.01,78.15 404.46,77.4" fill="none" stroke="#000000" stroke-width="1.05" stroke-linejoin="round" stroke-linecap="round" />
<rect x="285.68" y="86.36" width="2.6" height="2.6" fill="#000000" />
<rect x="307.04" y="111.52" width="2.6" height="2.6" fill="#000000" />
<rect x="331.96" y="112.51" width="2.6" height="2.6" fill="#000000" />
<rect x="403.16" y="76.1" width="2.6" height="2.6" fill="#000000" />
<polyline points="286.98,88.32 287.4,88.9 287.91,89.62 288.5,90.49 289.16,91.48 289.88,92.59 290.67,93.79 291.51,95.07 292.41,96.43 293.34,97.84 294.31,99.29 295.31,100.77 296.34,102.26 297.38,103.75 298.44,105.23 299.5,106.68 300.56,108.08 301.62,109.43 302.66,110.71 303.69,111.91 304.69,113.01 305.66,113.99 306.6,114.85 307.49,115.56 308.34,116.13 309.15,116.59 309.95,117.03 310.73,117.43 311.52,117.79 312.3,118.12 313.08,118.42 313.88,118.67 314.69,118.88 315.52,119.05 316.37,119.18 317.24,119.26 318.15,119.3 319.1,119.28 320.09,119.22 321.12,119.1 322.2,118.93 323.34,118.7 324.54,118.42 325.81,118.08 327.14,117.69 328.55,117.23 330.03,116.7 331.6,116.12 333.26,115.47 335.13,114.67 337.33,113.67 339.82,112.48 342.56,111.11 345.54,109.6 348.71,107.96 352.05,106.21 355.53,104.36 359.11,102.43 362.77,100.45 366.47,98.43 370.18,96.4 373.88,94.36 377.52,92.35 381.09,90.37 384.54,88.45 387.86,86.6 390.99,84.85 393.93,83.21 396.63,81.71 399.06,80.36 401.2,79.18 403.01,78.18 404.46,77.4" fill="none" stroke="#ff0000" stroke-width="1.05" stroke-linejoin="round" stroke-linecap="round" />
<rect x="285.68" y="87.02" width="2.6" height="2.6" fill="#ff0000" />
<rect x="307.04" y="114.83" width="2.6" height="2.6" fill="#ff0000" />
<rect x="331.96" y="114.17" width="2.6" height="2.6" fill="#ff0000" />
<rect x="403.16" y="76.1" width="2.6" height="2.6" fill="#ff0000" />
<rect x="276.3" y="11.5" width="142.4" height="132" fill="none" stroke="#333" stroke-width="0.9"/>
<line x1="276.3" y1="77.4" x2="418.7" y2="77.4" stroke="#111" stroke-width="1.0" />
<rect x="403.06" y="76" width="2.8" height="2.8" fill="#118a11" />
<line x1="273.8" y1="11.2" x2="276.3" y2="11.2" stroke="#222" stroke-width="0.8" />
<line x1="273.8" y1="44.3" x2="276.3" y2="44.3" stroke="#222" stroke-width="0.8" />
<line x1="273.8" y1="77.4" x2="276.3" y2="77.4" stroke="#222" stroke-width="0.8" />
<line x1="273.8" y1="110.5" x2="276.3" y2="110.5" stroke="#222" stroke-width="0.8" />
<line x1="273.8" y1="143.6" x2="276.3" y2="143.6" stroke="#222" stroke-width="0.8" />
<line x1="274.8" y1="27.75" x2="276.3" y2="27.75" stroke="#222" stroke-width="0.8" />
<line x1="274.8" y1="60.85" x2="276.3" y2="60.85" stroke="#222" stroke-width="0.8" />
<line x1="274.8" y1="93.95" x2="276.3" y2="93.95" stroke="#222" stroke-width="0.8" />
<line x1="274.8" y1="127.05" x2="276.3" y2="127.05" stroke="#222" stroke-width="0.8" />
<line x1="418.7" y1="15" x2="421.2" y2="15" stroke="#222" stroke-width="0.8" />
<line x1="418.7" y1="46.2" x2="421.2" y2="46.2" stroke="#222" stroke-width="0.8" />
<line x1="418.7" y1="77.4" x2="421.2" y2="77.4" stroke="#222" stroke-width="0.8" />
<line x1="418.7" y1="108.6" x2="421.2" y2="108.6" stroke="#222" stroke-width="0.8" />
<line x1="418.7" y1="139.8" x2="421.2" y2="139.8" stroke="#222" stroke-width="0.8" />
<line x1="418.7" y1="30.6" x2="420.2" y2="30.6" stroke="#222" stroke-width="0.8" />
<line x1="418.7" y1="61.8" x2="420.2" y2="61.8" stroke="#222" stroke-width="0.8" />
<line x1="418.7" y1="93" x2="420.2" y2="93" stroke="#222" stroke-width="0.8" />
<line x1="418.7" y1="124.2" x2="420.2" y2="124.2" stroke="#222" stroke-width="0.8" />
<line x1="276.3" y1="143.5" x2="276.3" y2="145.5" stroke="#222" stroke-width="0.8" />
<line x1="311.9" y1="143.5" x2="311.9" y2="145.5" stroke="#222" stroke-width="0.8" />
<line x1="347.5" y1="143.5" x2="347.5" y2="145.5" stroke="#222" stroke-width="0.8" />
<line x1="383.1" y1="143.5" x2="383.1" y2="145.5" stroke="#222" stroke-width="0.8" />
<line x1="418.7" y1="143.5" x2="418.7" y2="145.5" stroke="#222" stroke-width="0.8" />
<line x1="294.1" y1="143.5" x2="294.1" y2="144.8" stroke="#222" stroke-width="0.8" />
<line x1="329.7" y1="143.5" x2="329.7" y2="144.8" stroke="#222" stroke-width="0.8" />
<line x1="365.3" y1="143.5" x2="365.3" y2="144.8" stroke="#222" stroke-width="0.8" />
<line x1="400.9" y1="143.5" x2="400.9" y2="144.8" stroke="#222" stroke-width="0.8" />
<text x="271.8" y="14.2" font-size="8.5" text-anchor="end" >0.2</text>
<text x="271.8" y="47.3" font-size="8.5" text-anchor="end" >0.1</text>
<text x="271.8" y="80.4" font-size="8.5" text-anchor="end" >0.0</text>
<text x="271.8" y="113.5" font-size="8.5" text-anchor="end" >−0.1</text>
<text x="271.8" y="146.6" font-size="8.5" text-anchor="end" >−0.2</text>
<text x="424.3" y="18" font-size="8.5" text-anchor="start" >40</text>
<text x="424.3" y="49.2" font-size="8.5" text-anchor="start" >20</text>
<text x="424.3" y="80.4" font-size="8.5" text-anchor="start" >0</text>
<text x="424.3" y="111.6" font-size="8.5" text-anchor="start" >−20</text>
<text x="424.3" y="142.8" font-size="8.5" text-anchor="start" >−40</text>
<text x="276.3" y="157.2" font-size="8.5" text-anchor="middle" >350</text>
<text x="311.9" y="157.2" font-size="8.5" text-anchor="middle" >400</text>
<text x="347.5" y="157.2" font-size="8.5" text-anchor="middle" >450</text>
<text x="383.1" y="157.2" font-size="8.5" text-anchor="middle" >500</text>
<text x="418.7" y="157.2" font-size="8.5" text-anchor="middle" >550</text>
<text x="347" y="172.2" font-size="8.5" text-anchor="middle" >Wavelength (nm)</text>
<text transform="translate(249.4,76.5) rotate(-90)" font-size="8.75" text-anchor="middle">Photoresponsivity (A W<tspan font-size="5.8" dy="-3.3">−1</tspan><tspan dy="3.3">)</tspan></text>
<text transform="translate(452.3,73.3) rotate(-90)" font-size="8.25" text-anchor="middle">Photoconductor gain (%)</text>
<line x1="312.3" y1="71.2" x2="331.3" y2="71.2" stroke="#000" stroke-width="1.1" />
<rect x="320.5" y="69.9" width="2.6" height="2.6" fill="#000" />
<line x1="334.2" y1="71.2" x2="353.2" y2="71.2" stroke="#0000ff" stroke-width="1.1" />
<rect x="342.9" y="69.9" width="2.6" height="2.6" fill="#0000ff" />
<text x="356.3" y="74.3" font-size="8.8" text-anchor="start" >LCP</text>
<line x1="312.3" y1="82.2" x2="331.3" y2="82.2" stroke="#ff0000" stroke-width="1.1" />
<rect x="320.5" y="80.9" width="2.6" height="2.6" fill="#ff0000" />
<line x1="334.2" y1="82.2" x2="353.2" y2="82.2" stroke="#118a11" stroke-width="1.1" />
<rect x="342.9" y="80.9" width="2.6" height="2.6" fill="#118a11" />
<text x="356.3" y="85.3" font-size="8.8" text-anchor="start" >RCP</text>
<text x="357.6" y="25.2" font-size="8.6" text-anchor="start" >(<tspan font-style="italic">S</tspan>-α-PEA)PbI<tspan font-size="6.5" dy="2.3">3</tspan></text>
<text x="350.6" y="134.4" font-size="8.6" text-anchor="start" >(<tspan font-style="italic">R</tspan>-α-PEA)PbI<tspan font-size="6.5" dy="2.3">3</tspan></text>
<ellipse cx="356.3" cy="42" rx="1.2" ry="2.6" fill="none" stroke="#111" stroke-width="0.75"/>
<line x1="356.3" y1="39.6" x2="363.4" y2="39.6" stroke="#444" stroke-width="0.6" />
<polygon points="364.9,39.6 362.5,38.5 362.5,40.7" fill="#222" />
<ellipse cx="353.4" cy="50.6" rx="1.2" ry="2.8" fill="none" stroke="#111" stroke-width="0.75"/>
<line x1="353.4" y1="53.2" x2="346.3" y2="53.2" stroke="#444" stroke-width="0.6" />
<polygon points="344.8,53.2 347.2,52.1 347.2,54.3" fill="#222" />
<ellipse cx="364" cy="99.5" rx="1.2" ry="2.8" fill="none" stroke="#111" stroke-width="0.75"/>
<line x1="364" y1="96.9" x2="356.9" y2="96.9" stroke="#444" stroke-width="0.6" />
<polygon points="355.4,96.9 357.8,95.8 357.8,98" fill="#222" />
<ellipse cx="362.7" cy="108.4" rx="1.2" ry="2.6" fill="none" stroke="#111" stroke-width="0.75"/>
<line x1="362.7" y1="110.8" x2="369.8" y2="110.8" stroke="#444" stroke-width="0.6" />
<polygon points="371.3,110.8 368.9,109.7 368.9,111.9" fill="#222" />
<text x="461.4" y="10.7" font-size="14" text-anchor="start" font-weight="bold">c</text>
<line x1="504.3" y1="77.4" x2="647.5" y2="77.4" stroke="#777" stroke-width="1.0" />
<polyline points="504.3,59.8 504.68,60.34 505.03,60.89 505.35,61.46 505.66,62.04 505.96,62.64 506.24,63.24 506.51,63.86 506.77,64.47 507.04,65.09 507.3,65.72 507.56,66.34 507.83,66.95 508.11,67.56 508.41,68.17 508.72,68.76 509.04,69.34 509.39,69.9 509.77,70.45 510.17,70.98 510.61,71.49 511.08,71.98 511.59,72.44 512.13,72.86 512.7,73.24 513.3,73.57 513.92,73.82 514.56,74.01 515.22,74.1 515.89,74.11 516.55,74.02 517.22,73.86 517.86,73.62 518.48,73.32 519.06,72.97 519.6,72.57 520.08,72.13 520.53,71.64 520.94,71.13 521.3,70.58 521.64,70.01 521.95,69.41 522.23,68.79 522.49,68.15 522.74,67.51 522.96,66.85 523.18,66.19 523.39,65.52 523.6,64.86 523.81,64.19 524.01,63.53 524.21,62.88 524.41,62.22 524.6,61.57 524.8,60.92 524.99,60.27 525.18,59.63 525.37,58.99 525.56,58.35 525.75,57.71 525.94,57.08 526.13,56.45 526.32,55.83 526.51,55.21 526.7,54.6 526.89,53.98 527.08,53.38 527.28,52.78 527.47,52.18 527.67,51.59 527.87,51 528.07,50.41 528.28,49.83 528.49,49.24 528.71,48.65 528.93,48.07 529.15,47.48 529.39,46.88 529.62,46.28 529.87,45.68 530.13,45.06 530.39,44.44 530.66,43.81 530.94,43.17 531.23,42.52 531.53,41.85 531.84,41.18 532.17,40.48 532.5,39.78 532.85,39.06 533.22,38.36 533.6,37.69 534,37.07 534.43,36.51 534.88,36.04 535.35,35.67 535.86,35.42 536.39,35.3 536.96,35.33 537.55,35.5 538.15,35.79 538.74,36.16 539.32,36.62 539.88,37.13 540.39,37.67 540.85,38.23 541.26,38.8 541.63,39.38 541.96,39.96 542.25,40.56 542.52,41.15 542.77,41.76 543,42.37 543.23,42.98 543.45,43.6 543.67,44.22 543.9,44.84 544.14,45.46 544.39,46.08 544.66,46.7 544.94,47.31 545.23,47.91 545.54,48.51 545.86,49.09 546.21,49.66 546.58,50.21 546.96,50.75 547.37,51.27 547.8,51.78 548.25,52.26 548.71,52.74 549.19,53.21 549.67,53.67 550.16,54.12 550.65,54.57 551.15,55.02 551.65,55.47 552.14,55.92 552.63,56.38 553.11,56.84 553.59,57.3 554.06,57.77 554.53,58.24 554.99,58.71 555.46,59.19 555.92,59.67 556.37,60.15 556.83,60.63 557.28,61.12 557.73,61.61 558.18,62.1 558.62,62.59 559.06,63.09 559.5,63.59 559.93,64.1 560.35,64.61 560.78,65.12 561.19,65.65 561.6,66.17 562.01,66.71 562.41,67.24 562.81,67.78 563.21,68.32 563.61,68.85 564.02,69.38 564.44,69.89 564.87,70.4 565.32,70.89 565.79,71.36 566.28,71.81 566.78,72.23 567.32,72.63 567.87,73.01 568.45,73.35 569.04,73.67 569.64,73.96 570.26,74.21 570.89,74.43 571.52,74.63 572.16,74.8 572.81,74.96 573.46,75.11 574.11,75.26 574.75,75.41 575.4,75.58 576.04,75.77 576.67,75.96 577.31,76.17 577.94,76.39 578.56,76.62 579.18,76.85 579.8,77.1 580.41,77.35 581.03,77.61 581.64,77.86 582.26,78.1 582.88,78.33 583.51,78.55 584.15,78.74 584.8,78.92 585.46,79.06 586.12,79.18 586.79,79.26 587.45,79.31 588.11,79.32 588.77,79.29 589.43,79.22 590.08,79.11 590.72,78.97 591.37,78.8 592.01,78.6 592.64,78.38 593.28,78.14 593.92,77.9 594.56,77.65 595.2,77.4 595.85,77.17 596.49,76.95 597.13,76.76 597.77,76.6 598.42,76.48 599.06,76.41 599.71,76.4 600.35,76.44 601,76.55 601.64,76.7 602.29,76.9 602.93,77.12 603.57,77.36 604.2,77.62 604.83,77.88 605.46,78.11 606.1,78.29 606.74,78.39 607.39,78.41 608.05,78.33 608.7,78.17 609.35,77.95 609.99,77.67 610.61,77.35 611.23,77.04 611.84,76.75 612.45,76.53 613.07,76.41 613.69,76.41 614.33,76.52 614.97,76.69 615.63,76.9 616.29,77.1 616.96,77.25 617.63,77.33 618.3,77.35 618.97,77.29 619.63,77.17 620.27,76.97 620.9,76.72 621.52,76.42 622.13,76.12 622.74,75.84 623.35,75.6 623.98,75.44 624.62,75.39 625.27,75.45 625.93,75.6 626.57,75.84 627.2,76.16 627.79,76.53 628.34,76.95 628.83,77.39 629.28,77.86 629.71,78.35 630.13,78.84 630.55,79.34 631,79.84 631.48,80.33 632.02,80.8 632.62,81.24 633.25,81.6 633.89,81.85 634.5,81.93 635.08,81.81 635.6,81.5 636.09,81.05 636.58,80.53 637.07,80.02 637.61,79.56 638.19,79.23 638.82,79 639.47,78.84 640.13,78.7 640.78,78.54 641.39,78.32 641.97,78.03 642.5,77.66 643.01,77.23 643.5,76.76 643.97,76.26 644.42,75.73 644.87,75.19 645.32,74.66 645.78,74.15 646.25,73.66 646.74,73.22 647.26,72.83 647.8,72.5" fill="none" stroke="#22aae2" stroke-width="1.15" stroke-linejoin="round" stroke-linecap="round" />
<polyline points="504.3,96.2 504.5,95.6 504.69,95 504.89,94.38 505.08,93.75 505.28,93.12 505.48,92.48 505.68,91.84 505.89,91.2 506.11,90.55 506.34,89.91 506.58,89.28 506.83,88.64 507.09,88.02 507.37,87.4 507.67,86.79 507.99,86.2 508.32,85.62 508.68,85.05 509.06,84.5 509.47,83.97 509.9,83.47 510.36,82.98 510.85,82.52 511.37,82.08 511.92,81.68 512.49,81.31 513.09,81 513.71,80.74 514.35,80.54 515.01,80.42 515.68,80.38 516.35,80.42 517.02,80.53 517.67,80.71 518.31,80.96 518.91,81.27 519.48,81.62 520.01,82.03 520.5,82.48 520.95,82.96 521.37,83.48 521.76,84.03 522.12,84.61 522.45,85.2 522.77,85.81 523.06,86.43 523.34,87.06 523.61,87.69 523.86,88.32 524.1,88.95 524.34,89.58 524.56,90.21 524.78,90.84 524.99,91.47 525.2,92.11 525.4,92.74 525.59,93.37 525.78,94 525.97,94.64 526.16,95.27 526.34,95.9 526.53,96.54 526.72,97.17 526.91,97.8 527.1,98.43 527.3,99.07 527.5,99.7 527.7,100.33 527.91,100.96 528.12,101.59 528.34,102.22 528.56,102.85 528.79,103.48 529.01,104.11 529.24,104.74 529.47,105.37 529.7,105.99 529.94,106.62 530.17,107.24 530.4,107.86 530.64,108.49 530.87,109.11 531.1,109.73 531.33,110.34 531.56,110.96 531.79,111.58 532.02,112.19 532.25,112.8 532.49,113.41 532.74,114.02 533,114.62 533.27,115.22 533.56,115.81 533.88,116.4 534.21,116.99 534.57,117.57 534.95,118.14 535.37,118.71 535.82,119.27 536.3,119.81 536.81,120.32 537.35,120.79 537.91,121.18 538.49,121.5 539.09,121.71 539.71,121.8 540.34,121.76 540.96,121.61 541.59,121.35 542.2,121.01 542.78,120.6 543.33,120.15 543.84,119.65 544.31,119.14 544.74,118.61 545.13,118.06 545.48,117.5 545.81,116.93 546.12,116.34 546.4,115.74 546.68,115.14 546.94,114.53 547.2,113.91 547.46,113.3 547.72,112.68 547.99,112.07 548.27,111.46 548.57,110.85 548.88,110.25 549.2,109.66 549.54,109.08 549.89,108.51 550.27,107.96 550.66,107.42 551.08,106.9 551.51,106.41 551.97,105.93 552.45,105.47 552.95,105.04 553.47,104.62 553.99,104.2 554.52,103.79 555.05,103.38 555.57,102.97 556.08,102.54 556.58,102.1 557.06,101.65 557.52,101.17 557.96,100.68 558.38,100.17 558.79,99.65 559.19,99.11 559.58,98.57 559.96,98.02 560.33,97.46 560.7,96.9 561.07,96.34 561.44,95.78 561.82,95.23 562.19,94.68 562.57,94.13 562.96,93.58 563.34,93.04 563.73,92.5 564.12,91.96 564.52,91.43 564.92,90.9 565.31,90.37 565.71,89.84 566.11,89.31 566.52,88.78 566.92,88.25 567.32,87.72 567.73,87.2 568.15,86.68 568.56,86.16 568.99,85.65 569.42,85.14 569.87,84.65 570.32,84.16 570.79,83.68 571.27,83.22 571.77,82.77 572.28,82.33 572.81,81.91 573.35,81.51 573.9,81.13 574.47,80.78 575.06,80.46 575.65,80.17 576.26,79.91 576.89,79.7 577.53,79.51 578.17,79.36 578.83,79.23 579.49,79.13 580.15,79.05 580.82,78.98 581.49,78.92 582.16,78.86 582.83,78.82 583.5,78.77 584.16,78.73 584.83,78.7 585.49,78.66 586.16,78.63 586.82,78.59 587.49,78.56 588.15,78.52 588.81,78.48 589.47,78.44 590.14,78.4 590.8,78.35 591.46,78.3 592.12,78.24 592.78,78.17 593.44,78.1 594.1,78.01 594.76,77.93 595.42,77.84 596.08,77.75 596.74,77.66 597.4,77.58 598.06,77.5 598.72,77.44 599.38,77.39 600.04,77.35 600.71,77.32 601.37,77.31 602.04,77.29 602.7,77.28 603.37,77.26 604.03,77.24 604.7,77.22 605.37,77.18 606.04,77.13 606.7,77.07 607.37,77.02 608.04,76.98 608.71,76.95 609.37,76.93 610.03,76.94 610.69,76.98 611.34,77.05 611.99,77.16 612.64,77.29 613.29,77.45 613.93,77.62 614.58,77.8 615.22,77.99 615.86,78.17 616.51,78.35 617.16,78.51 617.81,78.67 618.46,78.8 619.11,78.93 619.76,79.05 620.42,79.16 621.08,79.27 621.73,79.37 622.39,79.47 623.05,79.57 623.71,79.66 624.37,79.75 625.03,79.84 625.69,79.92 626.36,79.98 627.02,80.04 627.68,80.08 628.35,80.1 629.01,80.1 629.67,80.09 630.34,80.07 631,80.04 631.67,80 632.33,79.96 633,79.91 633.66,79.87 634.33,79.84 634.99,79.81 635.66,79.8 636.32,79.79 636.98,79.81 637.65,79.83 638.31,79.86 638.97,79.9 639.64,79.95 640.3,80.01 640.97,80.08 641.64,80.15 642.3,80.23 642.96,80.32 643.62,80.44 644.26,80.58 644.9,80.76 645.52,80.98 646.12,81.25 646.7,81.57 647.26,81.95 647.8,82.4" fill="none" stroke="#f47272" stroke-width="1.25" stroke-linejoin="round" stroke-linecap="round" />
<polyline points="514.7,51.1 515.22,50.39 515.79,49.51 516.41,48.48 517.08,47.33 517.79,46.06 518.54,44.7 519.33,43.26 520.16,41.76 521.02,40.22 521.91,38.65 522.83,37.08 523.78,35.51 524.75,33.97 525.74,32.48 526.76,31.05 527.78,29.69 528.82,28.44 529.88,27.29 530.94,26.28 532.01,25.42 533.08,24.72 534.16,24.21 535.23,23.89 536.3,23.8 537.32,23.92 538.25,24.23 539.1,24.71 539.89,25.35 540.62,26.15 541.32,27.08 541.99,28.13 542.64,29.29 543.29,30.55 543.95,31.89 544.64,33.3 545.36,34.77 546.12,36.28 546.95,37.82 547.85,39.37 548.84,40.94 549.92,42.49 551.12,44.02 552.43,45.52 553.89,46.96 555.49,48.35 557.25,49.66 559.18,50.88 561.3,52 563.63,53.05 566.18,54.09 568.93,55.1 571.85,56.08 574.93,57.05 578.13,57.98 581.45,58.9 584.85,59.79 588.31,60.65 591.82,61.49 595.34,62.3 598.87,63.09 602.37,63.85 605.82,64.58 609.21,65.28 612.51,65.96 615.69,66.61 618.74,67.22 621.64,67.81 624.36,68.37 626.87,68.9 629.17,69.4 631.22,69.86 633,70.3" fill="none" stroke="#1414f0" stroke-width="1.3" stroke-linejoin="round" stroke-linecap="round" />
<polyline points="514.7,95 515.22,95.86 515.8,96.91 516.42,98.12 517.1,99.48 517.81,100.96 518.57,102.56 519.37,104.24 520.2,106 521.07,107.81 521.96,109.65 522.89,111.5 523.85,113.36 524.82,115.18 525.82,116.97 526.84,118.69 527.87,120.33 528.92,121.87 529.97,123.3 531.04,124.59 532.11,125.72 533.18,126.67 534.26,127.43 535.33,127.98 536.4,128.3 537.42,128.39 538.34,128.29 539.19,128.01 539.97,127.56 540.69,126.95 541.38,126.2 542.04,125.32 542.68,124.33 543.32,123.24 543.97,122.05 544.65,120.79 545.36,119.47 546.11,118.1 546.93,116.69 547.82,115.25 548.79,113.81 549.87,112.37 551.05,110.95 552.36,109.56 553.81,108.21 555.4,106.91 557.15,105.69 559.08,104.55 561.2,103.5 563.53,102.51 566.08,101.53 568.83,100.56 571.75,99.6 574.83,98.65 578.04,97.72 581.36,96.8 584.76,95.9 588.23,95.02 591.74,94.16 595.27,93.31 598.81,92.5 602.31,91.7 605.77,90.93 609.17,90.19 612.47,89.47 615.66,88.78 618.72,88.13 621.62,87.5 624.34,86.91 626.86,86.35 629.16,85.83 631.21,85.35 633,84.9" fill="none" stroke="#178a17" stroke-width="1.3" stroke-linejoin="round" stroke-linecap="round" />
<rect x="512.8" y="49.2" width="3.8" height="3.8" fill="#1414f0" />
<rect x="534.4" y="21.9" width="3.8" height="3.8" fill="#1414f0" />
<rect x="559.4" y="50.1" width="3.8" height="3.8" fill="#1414f0" />
<rect x="631.1" y="68.4" width="3.8" height="3.8" fill="#1414f0" />
<rect x="512.8" y="93.1" width="3.8" height="3.8" fill="#178a17" />
<rect x="534.5" y="126.4" width="3.8" height="3.8" fill="#178a17" />
<rect x="559.3" y="101.6" width="3.8" height="3.8" fill="#178a17" />
<rect x="631.1" y="83" width="3.8" height="3.8" fill="#178a17" />
<rect x="504.3" y="11.5" width="143.2" height="133" fill="none" stroke="#333" stroke-width="0.9"/>
<line x1="501.8" y1="22.4" x2="504.3" y2="22.4" stroke="#222" stroke-width="0.8" />
<line x1="501.8" y1="50.05" x2="504.3" y2="50.05" stroke="#222" stroke-width="0.8" />
<line x1="501.8" y1="77.7" x2="504.3" y2="77.7" stroke="#222" stroke-width="0.8" />
<line x1="501.8" y1="105.35" x2="504.3" y2="105.35" stroke="#222" stroke-width="0.8" />
<line x1="501.8" y1="133" x2="504.3" y2="133" stroke="#222" stroke-width="0.8" />
<line x1="502.8" y1="36.23" x2="504.3" y2="36.23" stroke="#222" stroke-width="0.8" />
<line x1="502.8" y1="63.88" x2="504.3" y2="63.88" stroke="#222" stroke-width="0.8" />
<line x1="502.8" y1="91.53" x2="504.3" y2="91.53" stroke="#222" stroke-width="0.8" />
<line x1="502.8" y1="119.18" x2="504.3" y2="119.18" stroke="#222" stroke-width="0.8" />
<line x1="647.5" y1="11.1" x2="650" y2="11.1" stroke="#222" stroke-width="0.8" />
<line x1="647.5" y1="33.3" x2="650" y2="33.3" stroke="#222" stroke-width="0.8" />
<line x1="647.5" y1="55.5" x2="650" y2="55.5" stroke="#222" stroke-width="0.8" />
<line x1="647.5" y1="77.7" x2="650" y2="77.7" stroke="#222" stroke-width="0.8" />
<line x1="647.5" y1="99.9" x2="650" y2="99.9" stroke="#222" stroke-width="0.8" />
<line x1="647.5" y1="122.1" x2="650" y2="122.1" stroke="#222" stroke-width="0.8" />
<line x1="647.5" y1="144.3" x2="650" y2="144.3" stroke="#222" stroke-width="0.8" />
<line x1="647.5" y1="22.2" x2="649" y2="22.2" stroke="#222" stroke-width="0.8" />
<line x1="647.5" y1="44.4" x2="649" y2="44.4" stroke="#222" stroke-width="0.8" />
<line x1="647.5" y1="66.6" x2="649" y2="66.6" stroke="#222" stroke-width="0.8" />
<line x1="647.5" y1="88.8" x2="649" y2="88.8" stroke="#222" stroke-width="0.8" />
<line x1="647.5" y1="111" x2="649" y2="111" stroke="#222" stroke-width="0.8" />
<line x1="647.5" y1="133.2" x2="649" y2="133.2" stroke="#222" stroke-width="0.8" />
<line x1="504.3" y1="144.5" x2="504.3" y2="146.5" stroke="#222" stroke-width="0.8" />
<line x1="540.1" y1="144.5" x2="540.1" y2="146.5" stroke="#222" stroke-width="0.8" />
<line x1="575.9" y1="144.5" x2="575.9" y2="146.5" stroke="#222" stroke-width="0.8" />
<line x1="611.7" y1="144.5" x2="611.7" y2="146.5" stroke="#222" stroke-width="0.8" />
<line x1="647.5" y1="144.5" x2="647.5" y2="146.5" stroke="#222" stroke-width="0.8" />
<line x1="522.2" y1="144.5" x2="522.2" y2="145.8" stroke="#222" stroke-width="0.8" />
<line x1="558" y1="144.5" x2="558" y2="145.8" stroke="#222" stroke-width="0.8" />
<line x1="593.8" y1="144.5" x2="593.8" y2="145.8" stroke="#222" stroke-width="0.8" />
<line x1="629.6" y1="144.5" x2="629.6" y2="145.8" stroke="#222" stroke-width="0.8" />
<text x="499.8" y="25.4" font-size="8.5" text-anchor="end" >0.10</text>
<text x="499.8" y="53.05" font-size="8.5" text-anchor="end" >0.05</text>
<text x="499.8" y="80.7" font-size="8.5" text-anchor="end" >0.00</text>
<text x="499.8" y="108.35" font-size="8.5" text-anchor="end" >−0.05</text>
<text x="499.8" y="136" font-size="8.5" text-anchor="end" >−0.10</text>
<text x="653.7" y="14.1" font-size="8.5" text-anchor="start" >0.03</text>
<text x="653.7" y="36.3" font-size="8.5" text-anchor="start" >0.02</text>
<text x="653.7" y="58.5" font-size="8.5" text-anchor="start" >0.01</text>
<text x="653.7" y="80.7" font-size="8.5" text-anchor="start" >0.00</text>
<text x="653.7" y="102.9" font-size="8.5" text-anchor="start" >−0.01</text>
<text x="653.7" y="125.1" font-size="8.5" text-anchor="start" >−0.02</text>
<text x="653.7" y="147.3" font-size="8.5" text-anchor="start" >−0.03</text>
<text x="502.8" y="157.5" font-size="8.5" text-anchor="middle" >350</text>
<text x="538.6" y="157.5" font-size="8.5" text-anchor="middle" >400</text>
<text x="574.4" y="157.5" font-size="8.5" text-anchor="middle" >450</text>
<text x="610.2" y="157.5" font-size="8.5" text-anchor="middle" >500</text>
<text x="646" y="157.5" font-size="8.5" text-anchor="middle" >550</text>
<text x="569" y="170.7" font-size="8.5" text-anchor="middle" >Wavelength (nm)</text>
<text transform="translate(469.4,77.6) rotate(-90)" font-size="9" text-anchor="middle"><tspan font-style="italic">g</tspan><tspan font-size="6.4" dy="2.2">res</tspan></text>
<text transform="translate(682.4,76.8) rotate(-90)" font-size="9" text-anchor="middle"><tspan font-style="italic">g</tspan><tspan font-size="6.4" dy="2.2">CD</tspan></text>
<line x1="550.8" y1="21.5" x2="569" y2="21.5" stroke="#26aee3" stroke-width="1.1" />
<line x1="550.8" y1="34.4" x2="569" y2="34.4" stroke="#f27b7b" stroke-width="1.1" />
<text x="571.2" y="24.6" font-size="8.8" text-anchor="start" ><tspan font-style="italic">g</tspan><tspan font-size="6.5" dy="2.3">CD</tspan><tspan dy="-2"> (</tspan><tspan font-style="italic">S</tspan>-α-PEA)PbI<tspan font-size="6.5" dy="2.3">3</tspan></text>
<text x="571.2" y="37.5" font-size="8.8" text-anchor="start" ><tspan font-style="italic">g</tspan><tspan font-size="6.5" dy="2.3">CD</tspan><tspan dy="-2"> (</tspan><tspan font-style="italic">R</tspan>-α-PEA)PbI<tspan font-size="6.5" dy="2.3">3</tspan></text>
<line x1="551.9" y1="118.7" x2="568.2" y2="118.7" stroke="#1414f0" stroke-width="1.2" />
<rect x="558.1" y="116.8" width="3.8" height="3.8" fill="#1414f0" />
<line x1="551.9" y1="131.7" x2="568.2" y2="131.7" stroke="#178a17" stroke-width="1.2" />
<rect x="558.1" y="129.8" width="3.8" height="3.8" fill="#178a17" />
<text x="571.5" y="121.8" font-size="8.8" text-anchor="start" ><tspan font-style="italic">g</tspan><tspan font-size="6.5" dy="2.3">res</tspan><tspan dy="-2"> (</tspan><tspan font-style="italic">S</tspan>-α-PEA)PbI<tspan font-size="6.5" dy="2.3">3</tspan></text>
<text x="571.5" y="134.8" font-size="8.8" text-anchor="start" ><tspan font-style="italic">g</tspan><tspan font-size="6.5" dy="2.3">res</tspan><tspan dy="-2"> (</tspan><tspan font-style="italic">R</tspan>-α-PEA)PbI<tspan font-size="6.5" dy="2.3">3</tspan></text>
<text x="-0.4" y="195" font-size="14" text-anchor="start" font-weight="bold">d</text>
<polyline points="58.3,262.8 72.7,272.7 89,279.8 100.9,286.2 116.7,295.6 136.9,304.6 150.6,309.8 158.8,313.1 164.1,315.2 168,316.7 171,317.5 173.4,317.7 174.7,317.5" fill="none" stroke="#111" stroke-width="0.9" stroke-linejoin="round" stroke-linecap="round" />
<polyline points="57.9,325.2 72.7,320.1 89,312.8 100.9,308.2 116.7,301.7 136.9,292.7 150.6,285.9 158.8,281.8 164.1,279.3 168,277.2 171,275.6 173.4,274.3 174.7,273.2" fill="none" stroke="#111" stroke-width="0.9" stroke-linejoin="round" stroke-linecap="round" />
<circle cx="58.3" cy="262.8" r="1.75" fill="url(#bg)"/>
<circle cx="72.7" cy="272.7" r="1.75" fill="url(#bg)"/>
<circle cx="89" cy="279.8" r="1.75" fill="url(#bg)"/>
<circle cx="100.9" cy="286.2" r="1.75" fill="url(#bg)"/>
<circle cx="116.7" cy="295.6" r="1.75" fill="url(#bg)"/>
<circle cx="136.9" cy="304.6" r="1.75" fill="url(#bg)"/>
<circle cx="150.6" cy="309.8" r="1.75" fill="url(#bg)"/>
<circle cx="158.8" cy="313.1" r="1.75" fill="url(#bg)"/>
<circle cx="164.1" cy="315.2" r="1.75" fill="url(#bg)"/>
<circle cx="168" cy="316.7" r="1.75" fill="url(#bg)"/>
<circle cx="171" cy="317.5" r="1.75" fill="url(#bg)"/>
<circle cx="173.4" cy="317.7" r="1.75" fill="url(#bg)"/>
<circle cx="174.7" cy="317.5" r="1.75" fill="url(#bg)"/>
<circle cx="57.9" cy="325.2" r="1.75" fill="url(#sg)"/>
<circle cx="72.7" cy="320.1" r="1.75" fill="url(#sg)"/>
<circle cx="89" cy="312.8" r="1.75" fill="url(#sg)"/>
<circle cx="100.9" cy="308.2" r="1.75" fill="url(#sg)"/>
<circle cx="116.7" cy="301.7" r="1.75" fill="url(#sg)"/>
<circle cx="136.9" cy="292.7" r="1.75" fill="url(#sg)"/>
<circle cx="150.6" cy="285.9" r="1.75" fill="url(#sg)"/>
<circle cx="158.8" cy="281.8" r="1.75" fill="url(#sg)"/>
<circle cx="164.1" cy="279.3" r="1.75" fill="url(#sg)"/>
<circle cx="168" cy="277.2" r="1.75" fill="url(#sg)"/>
<circle cx="171" cy="275.6" r="1.75" fill="url(#sg)"/>
<circle cx="173.4" cy="274.3" r="1.75" fill="url(#sg)"/>
<circle cx="174.7" cy="273.2" r="1.75" fill="url(#sg)"/>
<line x1="67.9" y1="317.9" x2="57" y2="317.9" stroke="#111" stroke-width="0.8" />
<polygon points="54.5,317.9 58,316.6 58,319.2" fill="#111" />
<line x1="166.3" y1="312.3" x2="177.5" y2="312.3" stroke="#2020e0" stroke-width="0.8" />
<polygon points="180,312.3 176.5,311 176.5,313.6" fill="#2020e0" />
<line x1="38.7" y1="196.9" x2="200.7" y2="196.9" stroke="#888" stroke-width="0.9" />
<line x1="200.7" y1="196.9" x2="200.7" y2="335.3" stroke="#333" stroke-width="0.9" />
<line x1="38.7" y1="196.9" x2="38.7" y2="335.3" stroke="#333" stroke-width="0.9" />
<line x1="38.7" y1="335.3" x2="200.7" y2="335.3" stroke="#333" stroke-width="0.9" />
<line x1="35.7" y1="315.4" x2="38.7" y2="315.4" stroke="#222" stroke-width="0.8" />
<line x1="35.7" y1="285.8" x2="38.7" y2="285.8" stroke="#222" stroke-width="0.8" />
<line x1="35.7" y1="256.2" x2="38.7" y2="256.2" stroke="#222" stroke-width="0.8" />
<line x1="35.7" y1="226.6" x2="38.7" y2="226.6" stroke="#222" stroke-width="0.8" />
<line x1="35.7" y1="197" x2="38.7" y2="197" stroke="#222" stroke-width="0.8" />
<line x1="37.4" y1="330.88" x2="38.7" y2="330.88" stroke="#222" stroke-width="0.6" />
<line x1="37.4" y1="327.18" x2="38.7" y2="327.18" stroke="#222" stroke-width="0.6" />
<line x1="37.4" y1="324.31" x2="38.7" y2="324.31" stroke="#222" stroke-width="0.6" />
<line x1="37.4" y1="321.97" x2="38.7" y2="321.97" stroke="#222" stroke-width="0.6" />
<line x1="37.4" y1="319.99" x2="38.7" y2="319.99" stroke="#222" stroke-width="0.6" />
<line x1="37.4" y1="318.27" x2="38.7" y2="318.27" stroke="#222" stroke-width="0.6" />
<line x1="37.4" y1="316.75" x2="38.7" y2="316.75" stroke="#222" stroke-width="0.6" />
<line x1="37.4" y1="306.49" x2="38.7" y2="306.49" stroke="#222" stroke-width="0.6" />
<line x1="37.4" y1="301.28" x2="38.7" y2="301.28" stroke="#222" stroke-width="0.6" />
<line x1="37.4" y1="297.58" x2="38.7" y2="297.58" stroke="#222" stroke-width="0.6" />
<line x1="37.4" y1="294.71" x2="38.7" y2="294.71" stroke="#222" stroke-width="0.6" />
<line x1="37.4" y1="292.37" x2="38.7" y2="292.37" stroke="#222" stroke-width="0.6" />
<line x1="37.4" y1="290.39" x2="38.7" y2="290.39" stroke="#222" stroke-width="0.6" />
<line x1="37.4" y1="288.67" x2="38.7" y2="288.67" stroke="#222" stroke-width="0.6" />
<line x1="37.4" y1="287.15" x2="38.7" y2="287.15" stroke="#222" stroke-width="0.6" />
<line x1="37.4" y1="276.89" x2="38.7" y2="276.89" stroke="#222" stroke-width="0.6" />
<line x1="37.4" y1="271.68" x2="38.7" y2="271.68" stroke="#222" stroke-width="0.6" />
<line x1="37.4" y1="267.98" x2="38.7" y2="267.98" stroke="#222" stroke-width="0.6" />
<line x1="37.4" y1="265.11" x2="38.7" y2="265.11" stroke="#222" stroke-width="0.6" />
<line x1="37.4" y1="262.77" x2="38.7" y2="262.77" stroke="#222" stroke-width="0.6" />
<line x1="37.4" y1="260.79" x2="38.7" y2="260.79" stroke="#222" stroke-width="0.6" />
<line x1="37.4" y1="259.07" x2="38.7" y2="259.07" stroke="#222" stroke-width="0.6" />
<line x1="37.4" y1="257.55" x2="38.7" y2="257.55" stroke="#222" stroke-width="0.6" />
<line x1="37.4" y1="247.29" x2="38.7" y2="247.29" stroke="#222" stroke-width="0.6" />
<line x1="37.4" y1="242.08" x2="38.7" y2="242.08" stroke="#222" stroke-width="0.6" />
<line x1="37.4" y1="238.38" x2="38.7" y2="238.38" stroke="#222" stroke-width="0.6" />
<line x1="37.4" y1="235.51" x2="38.7" y2="235.51" stroke="#222" stroke-width="0.6" />
<line x1="37.4" y1="233.17" x2="38.7" y2="233.17" stroke="#222" stroke-width="0.6" />
<line x1="37.4" y1="231.19" x2="38.7" y2="231.19" stroke="#222" stroke-width="0.6" />
<line x1="37.4" y1="229.47" x2="38.7" y2="229.47" stroke="#222" stroke-width="0.6" />
<line x1="37.4" y1="227.95" x2="38.7" y2="227.95" stroke="#222" stroke-width="0.6" />
<line x1="37.4" y1="217.69" x2="38.7" y2="217.69" stroke="#222" stroke-width="0.6" />
<line x1="37.4" y1="212.48" x2="38.7" y2="212.48" stroke="#222" stroke-width="0.6" />
<line x1="37.4" y1="208.78" x2="38.7" y2="208.78" stroke="#222" stroke-width="0.6" />
<line x1="37.4" y1="205.91" x2="38.7" y2="205.91" stroke="#222" stroke-width="0.6" />
<line x1="37.4" y1="203.57" x2="38.7" y2="203.57" stroke="#222" stroke-width="0.6" />
<line x1="37.4" y1="201.59" x2="38.7" y2="201.59" stroke="#222" stroke-width="0.6" />
<line x1="37.4" y1="199.87" x2="38.7" y2="199.87" stroke="#222" stroke-width="0.6" />
<line x1="37.4" y1="198.35" x2="38.7" y2="198.35" stroke="#222" stroke-width="0.6" />
<line x1="200.7" y1="316.8" x2="203.7" y2="316.8" stroke="#222" stroke-width="0.8" />
<line x1="200.7" y1="256.9" x2="203.7" y2="256.9" stroke="#222" stroke-width="0.8" />
<line x1="200.7" y1="197" x2="203.7" y2="197" stroke="#222" stroke-width="0.8" />
<line x1="200.7" y1="334.83" x2="202" y2="334.83" stroke="#222" stroke-width="0.6" />
<line x1="200.7" y1="330.09" x2="202" y2="330.09" stroke="#222" stroke-width="0.6" />
<line x1="200.7" y1="326.08" x2="202" y2="326.08" stroke="#222" stroke-width="0.6" />
<line x1="200.7" y1="322.6" x2="202" y2="322.6" stroke="#222" stroke-width="0.6" />
<line x1="200.7" y1="319.54" x2="202" y2="319.54" stroke="#222" stroke-width="0.6" />
<line x1="200.7" y1="298.77" x2="202" y2="298.77" stroke="#222" stroke-width="0.6" />
<line x1="200.7" y1="288.22" x2="202" y2="288.22" stroke="#222" stroke-width="0.6" />
<line x1="200.7" y1="280.74" x2="202" y2="280.74" stroke="#222" stroke-width="0.6" />
<line x1="200.7" y1="274.93" x2="202" y2="274.93" stroke="#222" stroke-width="0.6" />
<line x1="200.7" y1="270.19" x2="202" y2="270.19" stroke="#222" stroke-width="0.6" />
<line x1="200.7" y1="266.18" x2="202" y2="266.18" stroke="#222" stroke-width="0.6" />
<line x1="200.7" y1="262.7" x2="202" y2="262.7" stroke="#222" stroke-width="0.6" />
<line x1="200.7" y1="259.64" x2="202" y2="259.64" stroke="#222" stroke-width="0.6" />
<line x1="200.7" y1="238.87" x2="202" y2="238.87" stroke="#222" stroke-width="0.6" />
<line x1="200.7" y1="228.32" x2="202" y2="228.32" stroke="#222" stroke-width="0.6" />
<line x1="200.7" y1="220.84" x2="202" y2="220.84" stroke="#222" stroke-width="0.6" />
<line x1="200.7" y1="215.03" x2="202" y2="215.03" stroke="#222" stroke-width="0.6" />
<line x1="200.7" y1="210.29" x2="202" y2="210.29" stroke="#222" stroke-width="0.6" />
<line x1="200.7" y1="206.28" x2="202" y2="206.28" stroke="#222" stroke-width="0.6" />
<line x1="200.7" y1="202.8" x2="202" y2="202.8" stroke="#222" stroke-width="0.6" />
<line x1="200.7" y1="199.74" x2="202" y2="199.74" stroke="#222" stroke-width="0.6" />
<line x1="69.5" y1="335.3" x2="69.5" y2="337.5" stroke="#222" stroke-width="0.8" />
<line x1="113.3" y1="335.3" x2="113.3" y2="337.5" stroke="#222" stroke-width="0.8" />
<line x1="157.1" y1="335.3" x2="157.1" y2="337.5" stroke="#222" stroke-width="0.8" />
<line x1="200.9" y1="335.3" x2="200.9" y2="337.5" stroke="#222" stroke-width="0.8" />
<line x1="38.89" y1="335.3" x2="38.89" y2="336.5" stroke="#222" stroke-width="0.6" />
<line x1="46.6" y1="335.3" x2="46.6" y2="336.5" stroke="#222" stroke-width="0.6" />
<line x1="52.07" y1="335.3" x2="52.07" y2="336.5" stroke="#222" stroke-width="0.6" />
<line x1="56.31" y1="335.3" x2="56.31" y2="336.5" stroke="#222" stroke-width="0.6" />
<line x1="59.78" y1="335.3" x2="59.78" y2="336.5" stroke="#222" stroke-width="0.6" />
<line x1="62.72" y1="335.3" x2="62.72" y2="336.5" stroke="#222" stroke-width="0.6" />
<line x1="65.26" y1="335.3" x2="65.26" y2="336.5" stroke="#222" stroke-width="0.6" />
<line x1="67.5" y1="335.3" x2="67.5" y2="336.5" stroke="#222" stroke-width="0.6" />
<line x1="82.69" y1="335.3" x2="82.69" y2="336.5" stroke="#222" stroke-width="0.6" />
<line x1="90.4" y1="335.3" x2="90.4" y2="336.5" stroke="#222" stroke-width="0.6" />
<line x1="95.87" y1="335.3" x2="95.87" y2="336.5" stroke="#222" stroke-width="0.6" />
<line x1="100.11" y1="335.3" x2="100.11" y2="336.5" stroke="#222" stroke-width="0.6" />
<line x1="103.58" y1="335.3" x2="103.58" y2="336.5" stroke="#222" stroke-width="0.6" />
<line x1="106.52" y1="335.3" x2="106.52" y2="336.5" stroke="#222" stroke-width="0.6" />
<line x1="109.06" y1="335.3" x2="109.06" y2="336.5" stroke="#222" stroke-width="0.6" />
<line x1="111.3" y1="335.3" x2="111.3" y2="336.5" stroke="#222" stroke-width="0.6" />
<line x1="126.49" y1="335.3" x2="126.49" y2="336.5" stroke="#222" stroke-width="0.6" />
<line x1="134.2" y1="335.3" x2="134.2" y2="336.5" stroke="#222" stroke-width="0.6" />
<line x1="139.67" y1="335.3" x2="139.67" y2="336.5" stroke="#222" stroke-width="0.6" />
<line x1="143.91" y1="335.3" x2="143.91" y2="336.5" stroke="#222" stroke-width="0.6" />
<line x1="147.38" y1="335.3" x2="147.38" y2="336.5" stroke="#222" stroke-width="0.6" />
<line x1="150.32" y1="335.3" x2="150.32" y2="336.5" stroke="#222" stroke-width="0.6" />
<line x1="152.86" y1="335.3" x2="152.86" y2="336.5" stroke="#222" stroke-width="0.6" />
<line x1="155.1" y1="335.3" x2="155.1" y2="336.5" stroke="#222" stroke-width="0.6" />
<line x1="170.29" y1="335.3" x2="170.29" y2="336.5" stroke="#222" stroke-width="0.6" />
<line x1="178" y1="335.3" x2="178" y2="336.5" stroke="#222" stroke-width="0.6" />
<line x1="183.47" y1="335.3" x2="183.47" y2="336.5" stroke="#222" stroke-width="0.6" />
<line x1="187.71" y1="335.3" x2="187.71" y2="336.5" stroke="#222" stroke-width="0.6" />
<line x1="191.18" y1="335.3" x2="191.18" y2="336.5" stroke="#222" stroke-width="0.6" />
<line x1="194.12" y1="335.3" x2="194.12" y2="336.5" stroke="#222" stroke-width="0.6" />
<line x1="196.66" y1="335.3" x2="196.66" y2="336.5" stroke="#222" stroke-width="0.6" />
<line x1="198.9" y1="335.3" x2="198.9" y2="336.5" stroke="#222" stroke-width="0.6" />
<text x="32.6" y="200.7" font-size="8.1" text-anchor="end">10<tspan font-size="6.4" dy="-3.0">−6</tspan></text>
<text x="32.6" y="230.3" font-size="8.1" text-anchor="end">10<tspan font-size="6.4" dy="-3.0">−7</tspan></text>
<text x="32.6" y="259.9" font-size="8.1" text-anchor="end">10<tspan font-size="6.4" dy="-3.0">−8</tspan></text>
<text x="32.6" y="289.5" font-size="8.1" text-anchor="end">10<tspan font-size="6.4" dy="-3.0">−9</tspan></text>
<text x="32.6" y="319.1" font-size="8.1" text-anchor="end">10<tspan font-size="6.4" dy="-3.0">−10</tspan></text>
<text x="207.6" y="200.1" font-size="8.5" text-anchor="start" >10</text>
<text x="207.6" y="260" font-size="8.5" text-anchor="start" >1</text>
<text x="207.6" y="319.9" font-size="8.5" text-anchor="start" >0.1</text>
<text x="69.5" y="349.9" font-size="8.5" text-anchor="middle" >1</text>
<text x="113.3" y="349.9" font-size="8.5" text-anchor="middle" >10</text>
<text x="157.1" y="349.9" font-size="8.5" text-anchor="middle" >100</text>
<text x="200.9" y="349.9" font-size="8.5" text-anchor="middle" >1000</text>
<text x="119.5" y="365.7" font-size="8.5" text-anchor="middle" >Light intensity (μW cm<tspan font-size="5.8" dy="-3.3">−2</tspan><tspan dy="3.3">)</tspan></text>
<text transform="translate(8.5,261.4) rotate(-90)" font-size="8.3" text-anchor="middle">Photocurrent (A)</text>
<text transform="translate(232.3,265.6) rotate(-90)" font-size="8.5" text-anchor="middle">Responsivity (A W<tspan font-size="5.8" dy="-3.3">−1</tspan><tspan dy="3.3">)</tspan></text>
<rect x="102.3" y="200.8" width="61.5" height="59" fill="#fff" stroke="#222" stroke-width="0.8"/>
<polyline points="110.1,205.8 110.11,206.52 110.14,207.24 110.18,207.95 110.24,208.64 110.32,209.33 110.42,210.02 110.53,210.69 110.66,211.36 110.81,212.01 110.97,212.67 111.14,213.31 111.33,213.95 111.53,214.58 111.74,215.2 111.97,215.82 112.21,216.44 112.46,217.04 112.72,217.65 112.99,218.24 113.27,218.83 113.56,219.42 113.86,220 114.17,220.58 114.49,221.16 114.82,221.73 115.15,222.29 115.49,222.86 115.83,223.42 116.19,223.97 116.54,224.53 116.91,225.08 117.27,225.63 117.64,226.18 118.02,226.72 118.4,227.27 118.78,227.81 119.16,228.35 119.54,228.89 119.93,229.43 120.32,229.97 120.7,230.51 121.09,231.05 121.48,231.59 121.86,232.13 122.24,232.67 122.63,233.21 123.01,233.75 123.4,234.28 123.78,234.82 124.17,235.36 124.56,235.89 124.95,236.42 125.35,236.95 125.75,237.48 126.16,238 126.58,238.52 126.99,239.03 127.42,239.54 127.85,240.04 128.29,240.54 128.74,241.03 129.19,241.52 129.65,241.99 130.12,242.46 130.6,242.92 131.08,243.38 131.58,243.82 132.08,244.25 132.59,244.67 133.11,245.08 133.64,245.48 134.17,245.87 134.71,246.25 135.26,246.62 135.82,246.98 136.39,247.33 136.96,247.68 137.53,248.01 138.11,248.33 138.7,248.64 139.29,248.95 139.88,249.24 140.48,249.53 141.08,249.81 141.69,250.08 142.3,250.34 142.91,250.59 143.53,250.82 144.15,251.05 144.78,251.26 145.41,251.47 146.04,251.65 146.68,251.83 147.32,252 147.96,252.16 148.61,252.31 149.25,252.46 149.9,252.6 150.55,252.74 151.2,252.88 151.84,253.02 152.49,253.17 153.13,253.33 153.77,253.51 154.4,253.7" fill="none" stroke="#111" stroke-width="1.0" stroke-linejoin="round" stroke-linecap="round" />
<circle cx="110.1" cy="205.8" r="1.5" fill="url(#sg)"/>
<circle cx="115.7" cy="223.2" r="1.5" fill="url(#sg)"/>
<circle cx="121.7" cy="231.9" r="1.5" fill="url(#sg)"/>
<circle cx="126.4" cy="238.3" r="1.5" fill="url(#sg)"/>
<circle cx="132.5" cy="244.6" r="1.5" fill="url(#sg)"/>
<circle cx="140" cy="249.3" r="1.5" fill="url(#sg)"/>
<circle cx="145.2" cy="251.4" r="1.5" fill="url(#sg)"/>
<circle cx="149" cy="252.4" r="1.5" fill="url(#sg)"/>
<circle cx="151.3" cy="252.9" r="1.5" fill="url(#sg)"/>
<circle cx="153" cy="253.3" r="1.5" fill="url(#sg)"/>
<circle cx="154.4" cy="253.7" r="1.5" fill="url(#sg)"/>
<line x1="100.5" y1="259.8" x2="102.3" y2="259.8" stroke="#222" stroke-width="0.6" />
<text x="99.8" y="262.5" font-size="7.6" text-anchor="end" >0</text>
<line x1="100.5" y1="248.93" x2="102.3" y2="248.93" stroke="#222" stroke-width="0.6" />
<text x="99.8" y="251.62" font-size="7.6" text-anchor="end" >50</text>
<line x1="100.5" y1="238.05" x2="102.3" y2="238.05" stroke="#222" stroke-width="0.6" />
<text x="99.8" y="240.75" font-size="7.6" text-anchor="end" >100</text>
<line x1="100.5" y1="227.18" x2="102.3" y2="227.18" stroke="#222" stroke-width="0.6" />
<text x="99.8" y="229.88" font-size="7.6" text-anchor="end" >150</text>
<line x1="100.5" y1="216.3" x2="102.3" y2="216.3" stroke="#222" stroke-width="0.6" />
<text x="99.8" y="219" font-size="7.6" text-anchor="end" >200</text>
<line x1="100.5" y1="205.43" x2="102.3" y2="205.43" stroke="#222" stroke-width="0.6" />
<text x="99.8" y="208.12" font-size="7.6" text-anchor="end" >250</text>
<line x1="114.3" y1="259.8" x2="114.3" y2="261.6" stroke="#222" stroke-width="0.6" />
<line x1="130.7" y1="259.8" x2="130.7" y2="261.6" stroke="#222" stroke-width="0.6" />
<line x1="147.1" y1="259.8" x2="147.1" y2="261.6" stroke="#222" stroke-width="0.6" />
<line x1="163.5" y1="259.8" x2="163.5" y2="261.6" stroke="#222" stroke-width="0.6" />
<line x1="102.84" y1="259.8" x2="102.84" y2="260.8" stroke="#222" stroke-width="0.5" />
<line x1="105.72" y1="259.8" x2="105.72" y2="260.8" stroke="#222" stroke-width="0.5" />
<line x1="107.77" y1="259.8" x2="107.77" y2="260.8" stroke="#222" stroke-width="0.5" />
<line x1="109.36" y1="259.8" x2="109.36" y2="260.8" stroke="#222" stroke-width="0.5" />
<line x1="110.66" y1="259.8" x2="110.66" y2="260.8" stroke="#222" stroke-width="0.5" />
<line x1="111.76" y1="259.8" x2="111.76" y2="260.8" stroke="#222" stroke-width="0.5" />
<line x1="112.71" y1="259.8" x2="112.71" y2="260.8" stroke="#222" stroke-width="0.5" />
<line x1="113.55" y1="259.8" x2="113.55" y2="260.8" stroke="#222" stroke-width="0.5" />
<line x1="119.24" y1="259.8" x2="119.24" y2="260.8" stroke="#222" stroke-width="0.5" />
<line x1="122.12" y1="259.8" x2="122.12" y2="260.8" stroke="#222" stroke-width="0.5" />
<line x1="124.17" y1="259.8" x2="124.17" y2="260.8" stroke="#222" stroke-width="0.5" />
<line x1="125.76" y1="259.8" x2="125.76" y2="260.8" stroke="#222" stroke-width="0.5" />
<line x1="127.06" y1="259.8" x2="127.06" y2="260.8" stroke="#222" stroke-width="0.5" />
<line x1="128.16" y1="259.8" x2="128.16" y2="260.8" stroke="#222" stroke-width="0.5" />
<line x1="129.11" y1="259.8" x2="129.11" y2="260.8" stroke="#222" stroke-width="0.5" />
<line x1="129.95" y1="259.8" x2="129.95" y2="260.8" stroke="#222" stroke-width="0.5" />
<line x1="135.64" y1="259.8" x2="135.64" y2="260.8" stroke="#222" stroke-width="0.5" />
<line x1="138.52" y1="259.8" x2="138.52" y2="260.8" stroke="#222" stroke-width="0.5" />
<line x1="140.57" y1="259.8" x2="140.57" y2="260.8" stroke="#222" stroke-width="0.5" />
<line x1="142.16" y1="259.8" x2="142.16" y2="260.8" stroke="#222" stroke-width="0.5" />
<line x1="143.46" y1="259.8" x2="143.46" y2="260.8" stroke="#222" stroke-width="0.5" />
<line x1="144.56" y1="259.8" x2="144.56" y2="260.8" stroke="#222" stroke-width="0.5" />
<line x1="145.51" y1="259.8" x2="145.51" y2="260.8" stroke="#222" stroke-width="0.5" />
<line x1="146.35" y1="259.8" x2="146.35" y2="260.8" stroke="#222" stroke-width="0.5" />
<line x1="152.04" y1="259.8" x2="152.04" y2="260.8" stroke="#222" stroke-width="0.5" />
<line x1="154.92" y1="259.8" x2="154.92" y2="260.8" stroke="#222" stroke-width="0.5" />
<line x1="156.97" y1="259.8" x2="156.97" y2="260.8" stroke="#222" stroke-width="0.5" />
<line x1="158.56" y1="259.8" x2="158.56" y2="260.8" stroke="#222" stroke-width="0.5" />
<line x1="159.86" y1="259.8" x2="159.86" y2="260.8" stroke="#222" stroke-width="0.5" />
<line x1="160.96" y1="259.8" x2="160.96" y2="260.8" stroke="#222" stroke-width="0.5" />
<line x1="161.91" y1="259.8" x2="161.91" y2="260.8" stroke="#222" stroke-width="0.5" />
<line x1="162.75" y1="259.8" x2="162.75" y2="260.8" stroke="#222" stroke-width="0.5" />
<text x="114.3" y="270.4" font-size="7.6" text-anchor="middle" >1</text>
<text x="130.7" y="270.4" font-size="7.6" text-anchor="middle" >10</text>
<text x="147.1" y="270.4" font-size="7.6" text-anchor="middle" >100</text>
<text x="163.5" y="270.4" font-size="7.6" text-anchor="middle" >1000</text>
<text x="134.5" y="279.8" font-size="7.6" text-anchor="middle" >Light intensity</text>
<text x="134.3" y="287.6" font-size="7.6" text-anchor="middle" >(μW cm<tspan font-size="5.2" dy="-3">−2</tspan><tspan dy="3">)</tspan></text>
<text transform="translate(72.4,229.7) rotate(-90)" font-size="7.4" text-anchor="middle">Photocurrent</text>
<text transform="translate(80.3,229.5) rotate(-90)" font-size="7.4" text-anchor="middle">gain (%)</text>
<text x="248.3" y="195.7" font-size="14" text-anchor="start" font-weight="bold">e</text>
<polyline points="305.2,209.3 308.3,211.5 311.5,214.9 314.5,217.9 317.4,218.1 320.3,223.2 323.3,224.5 326.2,228.4 329.6,229.3 332.6,230.8 335.5,234.2 338.4,237.4 341.4,240.8 344.5,244.8 347.2,245 350.2,247.9 353.1,247.9 356,251.4 359.2,251.6 362.1,255.8 365.1,260.4 368,257.2 371,257.4 374.2,261.5 377.2,267 380.3,273.7 383.2,272.5 386.1,279.1 389.1,287.4 392.3,278.1 395.2,294 398.1,281.1 401.1,298.7 404,286 406.9,294.3 410.1,297.9 413,307.5 416,295.2 418.9,309.9 422.1,293.5 425,318 428,306.7 430.9,311.1 434.1,297.2 437,320.7 439.9,313.6 442.9,324.6 446.1,304.3 449,306 451.9,313.3" fill="none" stroke="#aaa" stroke-width="0.6" stroke-linejoin="round" stroke-linecap="round" />
<circle cx="305.2" cy="209.3" r="1.85" fill="url(#sg)"/>
<circle cx="308.3" cy="211.5" r="1.85" fill="url(#sg)"/>
<circle cx="311.5" cy="214.9" r="1.85" fill="url(#sg)"/>
<circle cx="314.5" cy="217.9" r="1.85" fill="url(#sg)"/>
<circle cx="317.4" cy="218.1" r="1.85" fill="url(#sg)"/>
<circle cx="320.3" cy="223.2" r="1.85" fill="url(#sg)"/>
<circle cx="323.3" cy="224.5" r="1.85" fill="url(#sg)"/>
<circle cx="326.2" cy="228.4" r="1.85" fill="url(#sg)"/>
<circle cx="329.6" cy="229.3" r="1.85" fill="url(#sg)"/>
<circle cx="332.6" cy="230.8" r="1.85" fill="url(#sg)"/>
<circle cx="335.5" cy="234.2" r="1.85" fill="url(#sg)"/>
<circle cx="338.4" cy="237.4" r="1.85" fill="url(#sg)"/>
<circle cx="341.4" cy="240.8" r="1.85" fill="url(#sg)"/>
<circle cx="344.5" cy="244.8" r="1.85" fill="url(#sg)"/>
<circle cx="347.2" cy="245" r="1.85" fill="url(#sg)"/>
<circle cx="350.2" cy="247.9" r="1.85" fill="url(#sg)"/>
<circle cx="353.1" cy="247.9" r="1.85" fill="url(#sg)"/>
<circle cx="356" cy="251.4" r="1.85" fill="url(#sg)"/>
<circle cx="359.2" cy="251.6" r="1.85" fill="url(#sg)"/>
<circle cx="362.1" cy="255.8" r="1.85" fill="url(#sg)"/>
<circle cx="365.1" cy="260.4" r="1.85" fill="url(#sg)"/>
<circle cx="368" cy="257.2" r="1.85" fill="url(#sg)"/>
<circle cx="371" cy="257.4" r="1.85" fill="url(#sg)"/>
<circle cx="374.2" cy="261.5" r="1.85" fill="url(#sg)"/>
<circle cx="377.2" cy="267" r="1.85" fill="url(#sg)"/>
<circle cx="380.3" cy="273.7" r="1.85" fill="url(#sg)"/>
<circle cx="383.2" cy="272.5" r="1.85" fill="url(#sg)"/>
<circle cx="386.1" cy="279.1" r="1.85" fill="url(#sg)"/>
<circle cx="389.1" cy="287.4" r="1.85" fill="url(#sg)"/>
<circle cx="392.3" cy="278.1" r="1.85" fill="url(#sg)"/>
<circle cx="395.2" cy="294" r="1.85" fill="url(#sg)"/>
<circle cx="398.1" cy="281.1" r="1.85" fill="url(#sg)"/>
<circle cx="401.1" cy="298.7" r="1.85" fill="url(#sg)"/>
<circle cx="404" cy="286" r="1.85" fill="url(#sg)"/>
<circle cx="406.9" cy="294.3" r="1.85" fill="url(#sg)"/>
<circle cx="410.1" cy="297.9" r="1.85" fill="url(#sg)"/>
<circle cx="413" cy="307.5" r="1.85" fill="url(#sg)"/>
<circle cx="416" cy="295.2" r="1.85" fill="url(#sg)"/>
<circle cx="418.9" cy="309.9" r="1.85" fill="url(#sg)"/>
<circle cx="422.1" cy="293.5" r="1.85" fill="url(#sg)"/>
<circle cx="425" cy="318" r="1.85" fill="url(#sg)"/>
<circle cx="428" cy="306.7" r="1.85" fill="url(#sg)"/>
<circle cx="430.9" cy="311.1" r="1.85" fill="url(#sg)"/>
<circle cx="434.1" cy="297.2" r="1.85" fill="url(#sg)"/>
<circle cx="437" cy="320.7" r="1.85" fill="url(#sg)"/>
<circle cx="439.9" cy="313.6" r="1.85" fill="url(#sg)"/>
<circle cx="442.9" cy="324.6" r="1.85" fill="url(#sg)"/>
<circle cx="446.1" cy="304.3" r="1.85" fill="url(#sg)"/>
<circle cx="449" cy="306" r="1.85" fill="url(#sg)"/>
<circle cx="451.9" cy="313.3" r="1.85" fill="url(#sg)"/>
<line x1="293.3" y1="196.8" x2="454.5" y2="196.8" stroke="#888" stroke-width="0.9" />
<line x1="454.5" y1="196.8" x2="454.5" y2="334.4" stroke="#555" stroke-width="0.9" />
<line x1="293.3" y1="196.8" x2="293.3" y2="334.4" stroke="#333" stroke-width="0.9" />
<line x1="293.3" y1="334.4" x2="454.5" y2="334.4" stroke="#333" stroke-width="0.9" />
<line x1="290.7" y1="334.4" x2="293.3" y2="334.4" stroke="#222" stroke-width="0.8" />
<line x1="290.7" y1="314.74" x2="293.3" y2="314.74" stroke="#222" stroke-width="0.8" />
<line x1="290.7" y1="295.09" x2="293.3" y2="295.09" stroke="#222" stroke-width="0.8" />
<line x1="290.7" y1="275.43" x2="293.3" y2="275.43" stroke="#222" stroke-width="0.8" />
<line x1="290.7" y1="255.77" x2="293.3" y2="255.77" stroke="#222" stroke-width="0.8" />
<line x1="290.7" y1="236.11" x2="293.3" y2="236.11" stroke="#222" stroke-width="0.8" />
<line x1="290.7" y1="216.46" x2="293.3" y2="216.46" stroke="#222" stroke-width="0.8" />
<line x1="290.7" y1="196.8" x2="293.3" y2="196.8" stroke="#222" stroke-width="0.8" />
<line x1="292.1" y1="328.48" x2="293.3" y2="328.48" stroke="#222" stroke-width="0.5" />
<line x1="292.1" y1="325.02" x2="293.3" y2="325.02" stroke="#222" stroke-width="0.5" />
<line x1="292.1" y1="322.57" x2="293.3" y2="322.57" stroke="#222" stroke-width="0.5" />
<line x1="292.1" y1="320.66" x2="293.3" y2="320.66" stroke="#222" stroke-width="0.5" />
<line x1="292.1" y1="319.1" x2="293.3" y2="319.1" stroke="#222" stroke-width="0.5" />
<line x1="292.1" y1="317.79" x2="293.3" y2="317.79" stroke="#222" stroke-width="0.5" />
<line x1="292.1" y1="316.65" x2="293.3" y2="316.65" stroke="#222" stroke-width="0.5" />
<line x1="292.1" y1="315.64" x2="293.3" y2="315.64" stroke="#222" stroke-width="0.5" />
<line x1="292.1" y1="308.83" x2="293.3" y2="308.83" stroke="#222" stroke-width="0.5" />
<line x1="292.1" y1="305.36" x2="293.3" y2="305.36" stroke="#222" stroke-width="0.5" />
<line x1="292.1" y1="302.91" x2="293.3" y2="302.91" stroke="#222" stroke-width="0.5" />
<line x1="292.1" y1="301" x2="293.3" y2="301" stroke="#222" stroke-width="0.5" />
<line x1="292.1" y1="299.45" x2="293.3" y2="299.45" stroke="#222" stroke-width="0.5" />
<line x1="292.1" y1="298.13" x2="293.3" y2="298.13" stroke="#222" stroke-width="0.5" />
<line x1="292.1" y1="296.99" x2="293.3" y2="296.99" stroke="#222" stroke-width="0.5" />
<line x1="292.1" y1="295.99" x2="293.3" y2="295.99" stroke="#222" stroke-width="0.5" />
<line x1="292.1" y1="289.17" x2="293.3" y2="289.17" stroke="#222" stroke-width="0.5" />
<line x1="292.1" y1="285.71" x2="293.3" y2="285.71" stroke="#222" stroke-width="0.5" />
<line x1="292.1" y1="283.25" x2="293.3" y2="283.25" stroke="#222" stroke-width="0.5" />
<line x1="292.1" y1="281.35" x2="293.3" y2="281.35" stroke="#222" stroke-width="0.5" />
<line x1="292.1" y1="279.79" x2="293.3" y2="279.79" stroke="#222" stroke-width="0.5" />
<line x1="292.1" y1="278.47" x2="293.3" y2="278.47" stroke="#222" stroke-width="0.5" />
<line x1="292.1" y1="277.33" x2="293.3" y2="277.33" stroke="#222" stroke-width="0.5" />
<line x1="292.1" y1="276.33" x2="293.3" y2="276.33" stroke="#222" stroke-width="0.5" />
<line x1="292.1" y1="269.51" x2="293.3" y2="269.51" stroke="#222" stroke-width="0.5" />
<line x1="292.1" y1="266.05" x2="293.3" y2="266.05" stroke="#222" stroke-width="0.5" />
<line x1="292.1" y1="263.59" x2="293.3" y2="263.59" stroke="#222" stroke-width="0.5" />
<line x1="292.1" y1="261.69" x2="293.3" y2="261.69" stroke="#222" stroke-width="0.5" />
<line x1="292.1" y1="260.13" x2="293.3" y2="260.13" stroke="#222" stroke-width="0.5" />
<line x1="292.1" y1="258.82" x2="293.3" y2="258.82" stroke="#222" stroke-width="0.5" />
<line x1="292.1" y1="257.68" x2="293.3" y2="257.68" stroke="#222" stroke-width="0.5" />
<line x1="292.1" y1="256.67" x2="293.3" y2="256.67" stroke="#222" stroke-width="0.5" />
<line x1="292.1" y1="249.85" x2="293.3" y2="249.85" stroke="#222" stroke-width="0.5" />
<line x1="292.1" y1="246.39" x2="293.3" y2="246.39" stroke="#222" stroke-width="0.5" />
<line x1="292.1" y1="243.94" x2="293.3" y2="243.94" stroke="#222" stroke-width="0.5" />
<line x1="292.1" y1="242.03" x2="293.3" y2="242.03" stroke="#222" stroke-width="0.5" />
<line x1="292.1" y1="240.48" x2="293.3" y2="240.48" stroke="#222" stroke-width="0.5" />
<line x1="292.1" y1="239.16" x2="293.3" y2="239.16" stroke="#222" stroke-width="0.5" />
<line x1="292.1" y1="238.02" x2="293.3" y2="238.02" stroke="#222" stroke-width="0.5" />
<line x1="292.1" y1="237.01" x2="293.3" y2="237.01" stroke="#222" stroke-width="0.5" />
<line x1="292.1" y1="230.2" x2="293.3" y2="230.2" stroke="#222" stroke-width="0.5" />
<line x1="292.1" y1="226.74" x2="293.3" y2="226.74" stroke="#222" stroke-width="0.5" />
<line x1="292.1" y1="224.28" x2="293.3" y2="224.28" stroke="#222" stroke-width="0.5" />
<line x1="292.1" y1="222.37" x2="293.3" y2="222.37" stroke="#222" stroke-width="0.5" />
<line x1="292.1" y1="220.82" x2="293.3" y2="220.82" stroke="#222" stroke-width="0.5" />
<line x1="292.1" y1="219.5" x2="293.3" y2="219.5" stroke="#222" stroke-width="0.5" />
<line x1="292.1" y1="218.36" x2="293.3" y2="218.36" stroke="#222" stroke-width="0.5" />
<line x1="292.1" y1="217.36" x2="293.3" y2="217.36" stroke="#222" stroke-width="0.5" />
<line x1="292.1" y1="210.54" x2="293.3" y2="210.54" stroke="#222" stroke-width="0.5" />
<line x1="292.1" y1="207.08" x2="293.3" y2="207.08" stroke="#222" stroke-width="0.5" />
<line x1="292.1" y1="204.62" x2="293.3" y2="204.62" stroke="#222" stroke-width="0.5" />
<line x1="292.1" y1="202.72" x2="293.3" y2="202.72" stroke="#222" stroke-width="0.5" />
<line x1="292.1" y1="201.16" x2="293.3" y2="201.16" stroke="#222" stroke-width="0.5" />
<line x1="292.1" y1="199.84" x2="293.3" y2="199.84" stroke="#222" stroke-width="0.5" />
<line x1="292.1" y1="198.7" x2="293.3" y2="198.7" stroke="#222" stroke-width="0.5" />
<line x1="292.1" y1="197.7" x2="293.3" y2="197.7" stroke="#222" stroke-width="0.5" />
<line x1="305.43" y1="334.4" x2="305.43" y2="336.7" stroke="#222" stroke-width="0.8" />
<line x1="345.73" y1="334.4" x2="345.73" y2="336.7" stroke="#222" stroke-width="0.8" />
<line x1="386.03" y1="334.4" x2="386.03" y2="336.7" stroke="#222" stroke-width="0.8" />
<line x1="426.33" y1="334.4" x2="426.33" y2="336.7" stroke="#222" stroke-width="0.8" />
<line x1="296.49" y1="334.4" x2="296.49" y2="335.6" stroke="#222" stroke-width="0.5" />
<line x1="299.19" y1="334.4" x2="299.19" y2="335.6" stroke="#222" stroke-width="0.5" />
<line x1="301.52" y1="334.4" x2="301.52" y2="335.6" stroke="#222" stroke-width="0.5" />
<line x1="303.59" y1="334.4" x2="303.59" y2="335.6" stroke="#222" stroke-width="0.5" />
<line x1="317.56" y1="334.4" x2="317.56" y2="335.6" stroke="#222" stroke-width="0.5" />
<line x1="324.66" y1="334.4" x2="324.66" y2="335.6" stroke="#222" stroke-width="0.5" />
<line x1="329.69" y1="334.4" x2="329.69" y2="335.6" stroke="#222" stroke-width="0.5" />
<line x1="333.6" y1="334.4" x2="333.6" y2="335.6" stroke="#222" stroke-width="0.5" />
<line x1="336.79" y1="334.4" x2="336.79" y2="335.6" stroke="#222" stroke-width="0.5" />
<line x1="339.49" y1="334.4" x2="339.49" y2="335.6" stroke="#222" stroke-width="0.5" />
<line x1="341.82" y1="334.4" x2="341.82" y2="335.6" stroke="#222" stroke-width="0.5" />
<line x1="343.89" y1="334.4" x2="343.89" y2="335.6" stroke="#222" stroke-width="0.5" />
<line x1="357.86" y1="334.4" x2="357.86" y2="335.6" stroke="#222" stroke-width="0.5" />
<line x1="364.96" y1="334.4" x2="364.96" y2="335.6" stroke="#222" stroke-width="0.5" />
<line x1="369.99" y1="334.4" x2="369.99" y2="335.6" stroke="#222" stroke-width="0.5" />
<line x1="373.9" y1="334.4" x2="373.9" y2="335.6" stroke="#222" stroke-width="0.5" />
<line x1="377.09" y1="334.4" x2="377.09" y2="335.6" stroke="#222" stroke-width="0.5" />
<line x1="379.79" y1="334.4" x2="379.79" y2="335.6" stroke="#222" stroke-width="0.5" />
<line x1="382.12" y1="334.4" x2="382.12" y2="335.6" stroke="#222" stroke-width="0.5" />
<line x1="384.19" y1="334.4" x2="384.19" y2="335.6" stroke="#222" stroke-width="0.5" />
<line x1="398.16" y1="334.4" x2="398.16" y2="335.6" stroke="#222" stroke-width="0.5" />
<line x1="405.26" y1="334.4" x2="405.26" y2="335.6" stroke="#222" stroke-width="0.5" />
<line x1="410.29" y1="334.4" x2="410.29" y2="335.6" stroke="#222" stroke-width="0.5" />
<line x1="414.2" y1="334.4" x2="414.2" y2="335.6" stroke="#222" stroke-width="0.5" />
<line x1="417.39" y1="334.4" x2="417.39" y2="335.6" stroke="#222" stroke-width="0.5" />
<line x1="420.09" y1="334.4" x2="420.09" y2="335.6" stroke="#222" stroke-width="0.5" />
<line x1="422.42" y1="334.4" x2="422.42" y2="335.6" stroke="#222" stroke-width="0.5" />
<line x1="424.49" y1="334.4" x2="424.49" y2="335.6" stroke="#222" stroke-width="0.5" />
<line x1="438.46" y1="334.4" x2="438.46" y2="335.6" stroke="#222" stroke-width="0.5" />
<line x1="445.56" y1="334.4" x2="445.56" y2="335.6" stroke="#222" stroke-width="0.5" />
<line x1="450.59" y1="334.4" x2="450.59" y2="335.6" stroke="#222" stroke-width="0.5" />
<line x1="454.5" y1="334.4" x2="454.5" y2="335.6" stroke="#222" stroke-width="0.5" />
<text x="286.6" y="220.56" font-size="8.35" text-anchor="end">10<tspan font-size="6.3" dy="-3.0">−25</tspan></text>
<text x="286.6" y="259.87" font-size="8.35" text-anchor="end">10<tspan font-size="6.3" dy="-3.0">−27</tspan></text>
<text x="286.6" y="299.19" font-size="8.35" text-anchor="end">10<tspan font-size="6.3" dy="-3.0">−29</tspan></text>
<text x="286.6" y="338.5" font-size="8.35" text-anchor="end">10<tspan font-size="6.3" dy="-3.0">−31</tspan></text>
<text x="305.43" y="349.8" font-size="8.35" text-anchor="middle" >0.01</text>
<text x="345.73" y="349.8" font-size="8.35" text-anchor="middle" >0.1</text>
<text x="386.03" y="349.8" font-size="8.35" text-anchor="middle" >1</text>
<text x="426.33" y="349.8" font-size="8.35" text-anchor="middle" >10</text>
<text x="373" y="364.2" font-size="8.35" text-anchor="middle" >Frequency (Hz)</text>
<text transform="translate(259.4,265.3) rotate(-90)" font-size="8.6" text-anchor="middle">Noise power (A<tspan font-size="6.3" dy="-3.1">2</tspan><tspan dy="3.1"> Hz</tspan><tspan font-size="6.3" dy="-3.1">−1</tspan><tspan dy="3.1">)</tspan></text>
<text x="466.3" y="195.8" font-size="14" text-anchor="start" font-weight="bold">f</text>
<line x1="499.4" y1="258.3" x2="631" y2="258.3" stroke="#000" stroke-width="0.75" stroke-dasharray="3.2 2.4"/>
<line x1="631" y1="258.3" x2="631" y2="334.5" stroke="#000" stroke-width="0.75" stroke-dasharray="3.2 2.4"/>
<polyline points="499.4,212.3 530.7,212.3 540.4,212.8 553.1,212.3 562.4,212.1 572.1,212.1 584.6,214.2 594.2,214.5 603.3,216.1 611.4,217.8 616.3,221.4 621.6,227.6 625.7,240.6 631,258.6 635.1,281.8 640.8,312.9" fill="none" stroke="#111" stroke-width="1.1" stroke-linejoin="round" stroke-linecap="round" />
<circle cx="530.7" cy="212.3" r="1.6" fill="url(#sg)"/>
<circle cx="540.4" cy="212.8" r="1.6" fill="url(#sg)"/>
<circle cx="553.1" cy="212.3" r="1.6" fill="url(#sg)"/>
<circle cx="562.4" cy="212.1" r="1.6" fill="url(#sg)"/>
<circle cx="572.1" cy="212.1" r="1.6" fill="url(#sg)"/>
<circle cx="584.6" cy="214.2" r="1.6" fill="url(#sg)"/>
<circle cx="594.2" cy="214.5" r="1.6" fill="url(#sg)"/>
<circle cx="603.3" cy="216.1" r="1.6" fill="url(#sg)"/>
<circle cx="611.4" cy="217.8" r="1.6" fill="url(#sg)"/>
<circle cx="616.3" cy="221.4" r="1.6" fill="url(#sg)"/>
<circle cx="621.6" cy="227.6" r="1.6" fill="url(#sg)"/>
<circle cx="625.7" cy="240.6" r="1.6" fill="url(#sg)"/>
<circle cx="631" cy="258.6" r="1.6" fill="url(#sg)"/>
<circle cx="635.1" cy="281.8" r="1.6" fill="url(#sg)"/>
<circle cx="640.8" cy="312.9" r="1.6" fill="url(#sg)"/>
<line x1="499.4" y1="197.5" x2="658.4" y2="197.5" stroke="#555" stroke-width="0.9" />
<line x1="658.4" y1="197.5" x2="658.4" y2="334.5" stroke="#555" stroke-width="0.9" />
<line x1="499.4" y1="197.5" x2="499.4" y2="334.5" stroke="#333" stroke-width="0.9" />
<line x1="499.4" y1="334.5" x2="658.4" y2="334.5" stroke="#333" stroke-width="0.9" />
<line x1="496.2" y1="212.4" x2="499.4" y2="212.4" stroke="#222" stroke-width="0.8" />
<line x1="496.2" y1="242.95" x2="499.4" y2="242.95" stroke="#222" stroke-width="0.8" />
<line x1="496.2" y1="273.5" x2="499.4" y2="273.5" stroke="#222" stroke-width="0.8" />
<line x1="496.2" y1="304.05" x2="499.4" y2="304.05" stroke="#222" stroke-width="0.8" />
<line x1="496.2" y1="334.6" x2="499.4" y2="334.6" stroke="#222" stroke-width="0.8" />
<line x1="497.9" y1="197.12" x2="499.4" y2="197.12" stroke="#222" stroke-width="0.6" />
<line x1="497.9" y1="227.68" x2="499.4" y2="227.68" stroke="#222" stroke-width="0.6" />
<line x1="497.9" y1="258.23" x2="499.4" y2="258.23" stroke="#222" stroke-width="0.6" />
<line x1="497.9" y1="288.78" x2="499.4" y2="288.78" stroke="#222" stroke-width="0.6" />
<line x1="497.9" y1="319.33" x2="499.4" y2="319.33" stroke="#222" stroke-width="0.6" />
<line x1="499.4" y1="334.5" x2="499.4" y2="336.8" stroke="#222" stroke-width="0.8" />
<line x1="531.2" y1="334.5" x2="531.2" y2="336.8" stroke="#222" stroke-width="0.8" />
<line x1="563" y1="334.5" x2="563" y2="336.8" stroke="#222" stroke-width="0.8" />
<line x1="594.8" y1="334.5" x2="594.8" y2="336.8" stroke="#222" stroke-width="0.8" />
<line x1="626.6" y1="334.5" x2="626.6" y2="336.8" stroke="#222" stroke-width="0.8" />
<line x1="658.4" y1="334.5" x2="658.4" y2="336.8" stroke="#222" stroke-width="0.8" />
<line x1="508.97" y1="334.5" x2="508.97" y2="335.7" stroke="#222" stroke-width="0.5" />
<line x1="514.57" y1="334.5" x2="514.57" y2="335.7" stroke="#222" stroke-width="0.5" />
<line x1="518.55" y1="334.5" x2="518.55" y2="335.7" stroke="#222" stroke-width="0.5" />
<line x1="521.63" y1="334.5" x2="521.63" y2="335.7" stroke="#222" stroke-width="0.5" />
<line x1="524.15" y1="334.5" x2="524.15" y2="335.7" stroke="#222" stroke-width="0.5" />
<line x1="526.27" y1="334.5" x2="526.27" y2="335.7" stroke="#222" stroke-width="0.5" />
<line x1="528.12" y1="334.5" x2="528.12" y2="335.7" stroke="#222" stroke-width="0.5" />
<line x1="529.74" y1="334.5" x2="529.74" y2="335.7" stroke="#222" stroke-width="0.5" />
<line x1="540.77" y1="334.5" x2="540.77" y2="335.7" stroke="#222" stroke-width="0.5" />
<line x1="546.37" y1="334.5" x2="546.37" y2="335.7" stroke="#222" stroke-width="0.5" />
<line x1="550.35" y1="334.5" x2="550.35" y2="335.7" stroke="#222" stroke-width="0.5" />
<line x1="553.43" y1="334.5" x2="553.43" y2="335.7" stroke="#222" stroke-width="0.5" />
<line x1="555.95" y1="334.5" x2="555.95" y2="335.7" stroke="#222" stroke-width="0.5" />
<line x1="558.07" y1="334.5" x2="558.07" y2="335.7" stroke="#222" stroke-width="0.5" />
<line x1="559.92" y1="334.5" x2="559.92" y2="335.7" stroke="#222" stroke-width="0.5" />
<line x1="561.54" y1="334.5" x2="561.54" y2="335.7" stroke="#222" stroke-width="0.5" />
<line x1="572.57" y1="334.5" x2="572.57" y2="335.7" stroke="#222" stroke-width="0.5" />
<line x1="578.17" y1="334.5" x2="578.17" y2="335.7" stroke="#222" stroke-width="0.5" />
<line x1="582.15" y1="334.5" x2="582.15" y2="335.7" stroke="#222" stroke-width="0.5" />
<line x1="585.23" y1="334.5" x2="585.23" y2="335.7" stroke="#222" stroke-width="0.5" />
<line x1="587.75" y1="334.5" x2="587.75" y2="335.7" stroke="#222" stroke-width="0.5" />
<line x1="589.87" y1="334.5" x2="589.87" y2="335.7" stroke="#222" stroke-width="0.5" />
<line x1="591.72" y1="334.5" x2="591.72" y2="335.7" stroke="#222" stroke-width="0.5" />
<line x1="593.34" y1="334.5" x2="593.34" y2="335.7" stroke="#222" stroke-width="0.5" />
<line x1="604.37" y1="334.5" x2="604.37" y2="335.7" stroke="#222" stroke-width="0.5" />
<line x1="609.97" y1="334.5" x2="609.97" y2="335.7" stroke="#222" stroke-width="0.5" />
<line x1="613.95" y1="334.5" x2="613.95" y2="335.7" stroke="#222" stroke-width="0.5" />
<line x1="617.03" y1="334.5" x2="617.03" y2="335.7" stroke="#222" stroke-width="0.5" />
<line x1="619.55" y1="334.5" x2="619.55" y2="335.7" stroke="#222" stroke-width="0.5" />
<line x1="621.67" y1="334.5" x2="621.67" y2="335.7" stroke="#222" stroke-width="0.5" />
<line x1="623.52" y1="334.5" x2="623.52" y2="335.7" stroke="#222" stroke-width="0.5" />
<line x1="625.14" y1="334.5" x2="625.14" y2="335.7" stroke="#222" stroke-width="0.5" />
<line x1="636.17" y1="334.5" x2="636.17" y2="335.7" stroke="#222" stroke-width="0.5" />
<line x1="641.77" y1="334.5" x2="641.77" y2="335.7" stroke="#222" stroke-width="0.5" />
<line x1="645.75" y1="334.5" x2="645.75" y2="335.7" stroke="#222" stroke-width="0.5" />
<line x1="648.83" y1="334.5" x2="648.83" y2="335.7" stroke="#222" stroke-width="0.5" />
<line x1="651.35" y1="334.5" x2="651.35" y2="335.7" stroke="#222" stroke-width="0.5" />
<line x1="653.47" y1="334.5" x2="653.47" y2="335.7" stroke="#222" stroke-width="0.5" />
<line x1="655.32" y1="334.5" x2="655.32" y2="335.7" stroke="#222" stroke-width="0.5" />
<line x1="656.94" y1="334.5" x2="656.94" y2="335.7" stroke="#222" stroke-width="0.5" />
<text x="493" y="215.3" font-size="8.35" text-anchor="end" >0</text>
<text x="493" y="245.85" font-size="8.35" text-anchor="end" >−2</text>
<text x="493" y="276.4" font-size="8.35" text-anchor="end" >−4</text>
<text x="493" y="306.95" font-size="8.35" text-anchor="end" >−6</text>
<text x="493" y="337.5" font-size="8.35" text-anchor="end" >−8</text>
<text x="499.4" y="349.8" font-size="8.35" text-anchor="middle" >0.01</text>
<text x="531.2" y="349.8" font-size="8.35" text-anchor="middle" >0.1</text>
<text x="563" y="349.8" font-size="8.35" text-anchor="middle" >1</text>
<text x="594.8" y="349.8" font-size="8.35" text-anchor="middle" >10</text>
<text x="626.6" y="349.8" font-size="8.35" text-anchor="middle" >100</text>
<text x="658.4" y="349.8" font-size="8.35" text-anchor="middle" >1000</text>
<text x="577.4" y="364.4" font-size="8.35" text-anchor="middle" >Light modulation frequency (Hz)</text>
<text transform="translate(474.5,265.4) rotate(-90)" font-size="8.4" text-anchor="middle">Relative response (dB)</text>
</svg>
</body></html>
